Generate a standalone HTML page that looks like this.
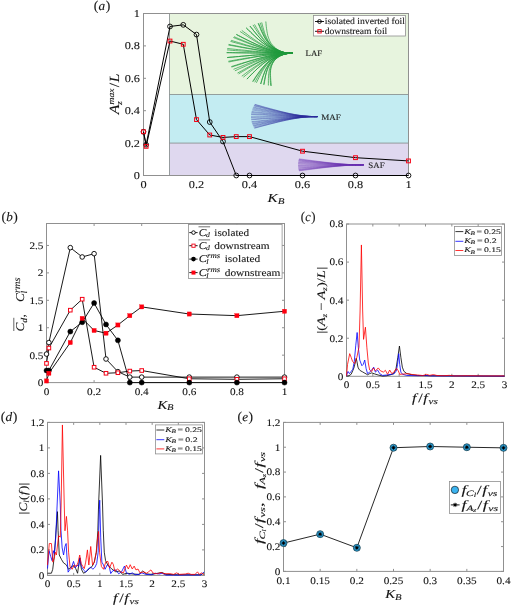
<!DOCTYPE html>
<html><head><meta charset="utf-8"><title>figure</title>
<style>html,body{margin:0;padding:0;background:#fff}svg{display:block}</style></head>
<body>
<svg width="518" height="612" viewBox="0 0 518 612" font-family="Liberation Serif, DejaVu Serif, serif" text-rendering="geometricPrecision">
<rect width="518" height="612" fill="#fff"/>
<rect x="169.50" y="13.5" width="239.00" height="81.00" fill="#e7f4de"/>
<rect x="169.50" y="94.50" width="239.00" height="48.60" fill="#c3ecf2"/>
<rect x="169.50" y="143.10" width="239.00" height="32.40" fill="#dfd8ef"/>
<path d="M169.50 13.5V175.5M169.50 94.50H408.5M169.50 143.10H408.5M169.50 175.5H408.5" stroke="#808888" stroke-width="0.8" fill="none"/>
<path d="M292.7 53.3 289.8 53.3 287.0 53.3 284.1 53.2 281.2 53.1 278.4 53.0 275.5 52.8 272.7 52.7 269.8 52.5 267.0 52.3 264.1 52.1 261.3 51.8 258.4 51.6 255.6 51.3 252.7 51.1 249.9 50.8 247.1 50.5 244.3 50.2 241.4 49.9 238.6 49.7 235.8 49.4 232.9 49.1 230.1 48.8 227.3 48.5M292.7 53.3 289.8 53.3 287.0 53.2 284.1 53.1 281.2 53.0 278.4 52.7 275.6 52.5 272.7 52.2 269.9 51.9 267.1 51.5 264.3 51.1 261.5 50.7 258.7 50.3 256.0 49.9 253.2 49.4 250.4 48.9 247.7 48.5 244.9 48.0 242.2 47.5 239.4 47.0 236.7 46.5 233.9 46.0 231.2 45.5 228.4 45.0M292.7 53.3 289.8 53.3 287.0 53.2 284.1 53.0 281.3 52.8 278.4 52.5 275.6 52.1 272.9 51.7 270.1 51.2 267.4 50.7 264.6 50.2 261.9 49.6 259.3 49.0 256.6 48.3 253.9 47.7 251.3 47.0 248.7 46.3 246.0 45.6 243.4 44.9 240.8 44.2 238.2 43.5 235.6 42.8 233.0 42.1 230.4 41.3M292.7 53.3 289.8 53.3 287.0 53.2 284.1 52.9 281.3 52.6 278.5 52.2 275.8 51.6 273.1 51.0 270.5 50.4 267.9 49.7 265.3 48.9 262.8 48.1 260.3 47.2 257.8 46.3 255.4 45.4 252.9 44.5 250.6 43.6 248.2 42.6 245.8 41.6 243.4 40.6 241.1 39.7 238.7 38.7 236.4 37.7 234.0 36.7M292.7 53.3 289.8 53.3 287.0 53.2 284.1 52.9 281.3 52.5 278.6 52.0 275.9 51.4 273.3 50.7 270.7 49.9 268.2 49.1 265.7 48.2 263.3 47.3 260.9 46.3 258.6 45.3 256.3 44.3 254.0 43.2 251.8 42.2 249.6 41.1 247.4 40.0 245.2 38.9 243.0 37.8 240.8 36.6 238.6 35.5 236.4 34.4M292.7 53.3 289.8 53.3 287.0 53.1 284.2 52.8 281.4 52.3 278.7 51.6 276.2 50.9 273.7 50.1 271.3 49.1 268.9 48.1 266.7 47.0 264.5 45.9 262.4 44.7 260.4 43.5 258.4 42.3 256.5 41.0 254.6 39.7 252.7 38.4 250.8 37.1 249.0 35.8 247.2 34.4 245.4 33.1 243.6 31.8 241.8 30.4M292.7 53.3 289.8 53.3 287.0 53.1 284.2 52.7 281.5 52.1 278.9 51.4 276.4 50.6 274.0 49.6 271.7 48.5 269.6 47.4 267.5 46.2 265.6 44.9 263.7 43.6 261.9 42.3 260.2 40.9 258.5 39.5 256.9 38.1 255.3 36.6 253.8 35.2 252.3 33.7 250.8 32.3 249.3 30.8 247.8 29.3 246.3 27.9M292.7 53.3 289.8 53.3 287.0 53.1 284.2 52.6 281.5 52.0 279.0 51.2 276.6 50.3 274.3 49.3 272.1 48.1 270.1 46.9 268.2 45.6 266.5 44.2 264.8 42.8 263.2 41.4 261.7 39.9 260.3 38.4 258.9 36.9 257.6 35.4 256.3 33.9 255.0 32.3 253.7 30.8 252.5 29.2 251.3 27.7 250.0 26.1M292.7 53.3 289.8 53.3 287.0 53.0 284.2 52.6 281.6 51.9 279.1 51.0 276.8 50.0 274.6 48.9 272.6 47.7 270.8 46.3 269.1 44.9 267.5 43.5 266.1 42.0 264.8 40.5 263.5 38.9 262.4 37.4 261.3 35.8 260.2 34.2 259.2 32.5 258.3 30.9 257.3 29.3 256.4 27.7 255.4 26.0 254.5 24.4M292.7 53.3 289.8 53.3 287.0 53.0 284.3 52.5 281.7 51.8 279.2 50.9 277.0 49.8 274.9 48.6 273.1 47.3 271.4 45.9 269.9 44.4 268.5 42.9 267.3 41.3 266.2 39.7 265.2 38.1 264.3 36.5 263.5 34.9 262.7 33.2 261.9 31.5 261.2 29.9 260.6 28.2 259.9 26.5 259.2 24.8 258.6 23.2M292.7 53.3 289.8 53.3 287.0 53.0 284.3 52.5 281.7 51.7 279.3 50.7 277.2 49.6 275.2 48.4 273.4 47.0 271.9 45.5 270.5 44.0 269.3 42.5 268.2 40.9 267.3 39.2 266.5 37.6 265.8 35.9 265.1 34.3 264.5 32.6 264.0 30.9 263.5 29.2 263.0 27.5 262.6 25.8 262.1 24.1 261.7 22.4M292.7 53.3 289.8 53.3 287.0 53.0 284.3 52.4 281.8 51.6 279.5 50.6 277.4 49.4 275.5 48.1 273.9 46.6 272.5 45.1 271.3 43.6 270.3 42.0 269.5 40.3 268.8 38.6 268.2 37.0 267.7 35.3 267.4 33.6 267.0 31.8 266.8 30.1 266.5 28.4 266.3 26.7 266.1 25.0 266.0 23.3 265.8 21.5M292.7 53.3 289.8 53.3 287.0 53.0 284.3 52.5 281.7 51.7 279.3 50.8 277.1 49.7 275.1 48.5 273.3 47.1 271.6 45.7 270.2 44.2 268.9 42.7 267.8 41.1 266.8 39.5 265.9 37.8 265.1 36.2 264.3 34.5 263.6 32.9 263.0 31.2 262.4 29.5 261.8 27.8 261.3 26.1 260.7 24.4 260.2 22.7M292.7 53.3 289.8 53.3 287.0 53.0 284.3 52.5 281.7 51.8 279.2 50.9 277.0 49.8 274.9 48.6 273.0 47.3 271.3 45.9 269.8 44.5 268.4 43.0 267.2 41.4 266.0 39.8 265.0 38.2 264.1 36.6 263.2 34.9 262.4 33.3 261.6 31.6 260.9 30.0 260.2 28.3 259.5 26.6 258.8 25.0 258.1 23.3M292.7 53.3 289.8 53.3 287.0 53.1 284.2 52.6 281.6 51.9 279.1 51.1 276.7 50.1 274.5 49.0 272.5 47.8 270.6 46.5 268.8 45.2 267.2 43.7 265.7 42.3 264.2 40.8 262.9 39.2 261.7 37.7 260.5 36.1 259.3 34.5 258.2 33.0 257.2 31.4 256.1 29.8 255.1 28.2 254.0 26.6 253.0 24.9M292.7 53.3 289.8 53.3 287.0 53.1 284.2 52.6 281.5 52.0 279.0 51.2 276.6 50.3 274.3 49.3 272.1 48.1 270.1 46.9 268.2 45.6 266.4 44.3 264.8 42.9 263.2 41.4 261.7 39.9 260.2 38.5 258.9 36.9 257.5 35.4 256.2 33.9 255.0 32.3 253.7 30.8 252.5 29.2 251.2 27.7 250.0 26.1M292.7 53.3 289.8 53.3 287.0 53.1 284.2 52.7 281.5 52.1 278.9 51.4 276.4 50.6 274.0 49.6 271.7 48.5 269.6 47.4 267.5 46.2 265.6 44.9 263.7 43.6 261.9 42.3 260.2 40.9 258.5 39.5 256.9 38.1 255.3 36.7 253.8 35.2 252.2 33.7 250.7 32.3 249.2 30.8 247.7 29.3 246.2 27.9M292.7 53.3 289.8 53.3 287.0 53.1 284.2 52.8 281.4 52.3 278.7 51.7 276.1 51.0 273.5 50.2 271.1 49.3 268.7 48.4 266.4 47.4 264.1 46.3 262.0 45.2 259.8 44.0 257.8 42.8 255.7 41.6 253.7 40.4 251.7 39.1 249.8 37.9 247.8 36.6 245.9 35.3 244.0 34.1 242.1 32.8 240.1 31.5M292.7 53.3 289.8 53.3 287.0 53.2 284.1 52.9 281.3 52.5 278.6 52.0 275.9 51.4 273.3 50.7 270.7 50.0 268.2 49.1 265.7 48.3 263.3 47.4 260.9 46.4 258.5 45.4 256.2 44.4 254.0 43.3 251.7 42.3 249.5 41.2 247.2 40.1 245.0 39.0 242.8 37.9 240.6 36.8 238.5 35.7 236.3 34.5M292.7 53.3 289.8 53.3 287.0 53.2 284.1 53.0 281.3 52.6 278.5 52.2 275.8 51.7 273.1 51.1 270.4 50.5 267.8 49.8 265.2 49.1 262.6 48.3 260.1 47.5 257.6 46.7 255.1 45.8 252.6 44.9 250.2 44.0 247.8 43.1 245.3 42.2 242.9 41.2 240.5 40.3 238.1 39.4 235.7 38.4 233.3 37.5M292.7 53.3 289.8 53.3 287.0 53.2 284.1 53.0 281.3 52.8 278.5 52.4 275.7 52.0 272.9 51.6 270.2 51.0 267.5 50.5 264.8 49.9 262.1 49.2 259.5 48.6 256.8 47.9 254.2 47.2 251.6 46.4 249.0 45.7 246.4 45.0 243.9 44.2 241.3 43.4 238.7 42.6 236.2 41.9 233.6 41.1 231.1 40.3M292.7 53.3 289.8 53.3 287.0 53.2 284.1 53.1 281.2 52.9 278.4 52.7 275.6 52.4 272.7 52.1 269.9 51.8 267.1 51.4 264.3 51.0 261.6 50.6 258.8 50.1 256.0 49.6 253.3 49.1 250.5 48.6 247.8 48.1 245.1 47.6 242.3 47.1 239.6 46.6 236.9 46.0 234.1 45.5 231.4 45.0 228.7 44.4M292.7 53.3 289.8 53.3 287.0 53.3 284.1 53.2 281.2 53.2 278.4 53.1 275.5 53.0 272.6 52.9 269.8 52.7 266.9 52.6 264.1 52.4 261.2 52.3 258.3 52.1 255.5 51.9 252.6 51.7 249.8 51.5 246.9 51.4 244.1 51.2 241.2 51.0 238.4 50.8 235.5 50.6 232.7 50.4 229.8 50.1 227.0 49.9M292.7 53.3 289.8 53.3 287.0 53.3 284.1 53.3 281.2 53.3 278.4 53.3 275.5 53.2 272.6 53.2 269.7 53.2 266.9 53.1 264.0 53.1 261.1 53.1 258.3 53.0 255.4 53.0 252.5 53.0 249.7 52.9 246.8 52.9 243.9 52.8 241.1 52.8 238.2 52.8 235.3 52.7 232.4 52.7 229.6 52.6 226.7 52.6M292.7 53.3 289.8 53.3 287.0 53.3 284.1 53.4 281.2 53.5 278.4 53.6 275.5 53.7 272.6 53.9 269.8 54.0 266.9 54.2 264.1 54.4 261.2 54.6 258.4 54.8 255.5 55.1 252.7 55.3 249.9 55.5 247.0 55.8 244.2 56.0 241.3 56.3 238.5 56.6 235.7 56.8 232.8 57.1 230.0 57.3 227.2 57.6M292.7 53.3 289.8 53.3 287.0 53.4 284.1 53.5 281.2 53.7 278.4 53.9 275.6 54.1 272.7 54.5 269.9 54.8 267.1 55.2 264.3 55.6 261.6 56.0 258.8 56.4 256.0 56.9 253.3 57.4 250.5 57.9 247.8 58.4 245.0 58.9 242.3 59.4 239.5 59.9 236.8 60.4 234.1 60.9 231.3 61.5 228.6 62.0M292.7 53.3 289.8 53.3 287.0 53.4 284.1 53.6 281.3 53.9 278.5 54.2 275.7 54.6 272.9 55.1 270.2 55.6 267.5 56.2 264.8 56.8 262.1 57.5 259.5 58.1 256.9 58.8 254.3 59.6 251.7 60.3 249.1 61.1 246.6 61.9 244.0 62.6 241.5 63.4 238.9 64.2 236.4 65.0 233.8 65.8 231.3 66.6M292.7 53.3 289.8 53.3 287.0 53.4 284.1 53.7 281.3 54.1 278.6 54.5 275.8 55.1 273.2 55.7 270.6 56.4 268.0 57.2 265.5 58.0 263.0 58.8 260.5 59.7 258.1 60.7 255.7 61.6 253.4 62.6 251.0 63.6 248.7 64.6 246.4 65.6 244.1 66.7 241.8 67.7 239.5 68.7 237.2 69.8 234.9 70.8M292.7 53.3 289.8 53.3 287.0 53.5 284.1 53.7 281.4 54.2 278.6 54.7 276.0 55.3 273.4 56.0 270.8 56.8 268.3 57.7 265.9 58.6 263.5 59.6 261.2 60.6 258.9 61.7 256.7 62.8 254.5 63.9 252.3 65.0 250.2 66.1 248.0 67.3 245.9 68.4 243.8 69.6 241.7 70.8 239.6 71.9 237.5 73.1M292.7 53.3 289.8 53.3 287.0 53.5 284.2 53.9 281.4 54.4 278.8 55.0 276.2 55.8 273.8 56.7 271.4 57.7 269.2 58.8 267.0 59.9 264.9 61.1 262.9 62.3 260.9 63.6 259.1 64.9 257.2 66.2 255.4 67.5 253.7 68.9 251.9 70.3 250.2 71.6 248.5 73.0 246.8 74.4 245.1 75.8 243.4 77.2M292.7 53.3 289.8 53.3 287.0 53.5 284.2 53.9 281.5 54.5 278.9 55.2 276.4 56.1 274.0 57.1 271.8 58.1 269.7 59.3 267.6 60.5 265.7 61.8 263.9 63.1 262.1 64.5 260.5 65.9 258.8 67.3 257.3 68.7 255.7 70.2 254.2 71.7 252.7 73.1 251.3 74.6 249.8 76.1 248.4 77.6 246.9 79.1M292.7 53.3 289.8 53.3 287.0 53.5 284.2 54.0 281.6 54.7 279.1 55.5 276.7 56.5 274.5 57.6 272.5 58.8 270.6 60.1 268.8 61.4 267.2 62.9 265.7 64.3 264.2 65.8 262.9 67.4 261.7 68.9 260.5 70.5 259.4 72.1 258.3 73.6 257.2 75.2 256.1 76.8 255.1 78.4 254.1 80.1 253.0 81.7M292.7 53.3 289.8 53.3 287.0 53.6 284.2 54.1 281.6 54.8 279.2 55.7 276.9 56.7 274.8 57.9 272.8 59.1 271.1 60.5 269.5 61.9 268.0 63.4 266.7 64.9 265.4 66.5 264.3 68.1 263.3 69.7 262.3 71.3 261.4 72.9 260.5 74.6 259.7 76.2 258.8 77.8 258.0 79.5 257.2 81.2 256.4 82.8M292.7 53.3 289.8 53.3 287.0 53.6 284.3 54.1 281.7 54.9 279.3 55.8 277.1 56.9 275.1 58.2 273.3 59.5 271.7 61.0 270.3 62.5 269.1 64.0 268.0 65.6 267.0 67.2 266.1 68.9 265.3 70.5 264.6 72.2 264.0 73.9 263.4 75.5 262.8 77.2 262.3 78.9 261.8 80.6 261.3 82.3 260.8 84.0M292.7 53.3 289.8 53.3 287.0 53.6 284.3 54.2 281.8 55.0 279.4 56.0 277.3 57.1 275.4 58.4 273.7 59.8 272.2 61.3 271.0 62.8 269.9 64.4 268.9 66.0 268.1 67.7 267.5 69.4 266.9 71.1 266.4 72.8 265.9 74.5 265.5 76.2 265.2 77.9 264.9 79.6 264.6 81.3 264.3 83.0 264.0 84.7M292.7 53.3 289.8 53.3 287.0 53.6 284.3 54.3 281.9 55.1 279.6 56.2 277.7 57.5 276.0 58.8 274.5 60.3 273.3 61.9 272.4 63.5 271.6 65.2 271.0 66.9 270.6 68.6 270.3 70.3 270.1 72.0 270.0 73.7 270.0 75.4 270.1 77.2 270.2 78.9 270.3 80.6 270.4 82.3 270.5 84.0 270.7 85.8M292.7 53.3 289.8 53.3 287.0 53.6 284.3 54.3 281.9 55.1 279.7 56.2 277.7 57.5 276.0 58.9 274.6 60.4 273.4 62.0 272.5 63.6 271.8 65.3 271.2 66.9 270.9 68.7 270.6 70.4 270.5 72.1 270.4 73.8 270.5 75.5 270.6 77.3 270.7 79.0 270.8 80.7 271.0 82.4 271.2 84.1 271.4 85.8M292.7 53.3 289.8 53.3 287.0 53.6 284.3 54.2 281.8 55.1 279.6 56.1 277.5 57.3 275.8 58.7 274.2 60.2 273.0 61.7 271.9 63.3 271.0 64.9 270.3 66.6 269.7 68.3 269.3 70.0 269.0 71.7 268.8 73.4 268.6 75.1 268.5 76.9 268.4 78.6 268.4 80.3 268.4 82.0 268.4 83.7 268.4 85.5M292.7 53.3 289.8 53.3 287.0 53.6 284.3 54.2 281.7 55.0 279.4 55.9 277.3 57.1 275.4 58.4 273.7 59.8 272.2 61.3 270.9 62.8 269.8 64.4 268.8 66.0 268.0 67.7 267.3 69.3 266.7 71.0 266.2 72.7 265.8 74.4 265.4 76.1 265.0 77.8 264.6 79.5 264.3 81.2 264.0 82.9 263.7 84.7M292.7 53.3 289.8 53.3 287.0 53.6 284.3 54.1 281.7 54.9 279.3 55.8 277.1 56.9 275.1 58.2 273.3 59.5 271.7 60.9 270.3 62.4 269.0 64.0 267.9 65.6 266.9 67.2 266.0 68.8 265.2 70.5 264.5 72.1 263.9 73.8 263.3 75.5 262.7 77.2 262.1 78.9 261.6 80.6 261.1 82.3 260.6 84.0M292.7 53.3 289.8 53.3 287.0 53.6 284.2 54.0 281.6 54.7 279.1 55.6 276.8 56.6 274.6 57.7 272.7 59.0 270.8 60.3 269.1 61.7 267.6 63.1 266.2 64.6 264.9 66.2 263.6 67.7 262.5 69.3 261.4 70.9 260.4 72.5 259.4 74.1 258.5 75.8 257.5 77.4 256.6 79.0 255.7 80.7 254.8 82.3M292.7 53.3 289.8 53.3 287.0 53.5 284.2 54.0 281.6 54.7 279.1 55.5 276.7 56.5 274.5 57.6 272.4 58.8 270.5 60.0 268.7 61.4 267.1 62.8 265.5 64.3 264.1 65.7 262.8 67.3 261.5 68.8 260.3 70.4 259.1 71.9 258.0 73.5 256.9 75.1 255.8 76.7 254.7 78.3 253.7 79.9 252.6 81.5M292.7 53.3 289.8 53.3 287.0 53.5 284.2 53.9 281.5 54.5 278.9 55.2 276.4 56.1 274.0 57.1 271.8 58.1 269.7 59.3 267.7 60.5 265.7 61.8 263.9 63.1 262.2 64.5 260.5 65.9 258.9 67.3 257.3 68.7 255.8 70.2 254.3 71.7 252.8 73.1 251.3 74.6 249.9 76.1 248.4 77.6 247.0 79.1M292.7 53.3 289.8 53.3 287.0 53.5 284.2 53.8 281.4 54.3 278.7 55.0 276.2 55.7 273.7 56.5 271.3 57.5 268.9 58.5 266.7 59.6 264.5 60.7 262.4 61.9 260.4 63.1 258.4 64.3 256.5 65.6 254.6 66.9 252.7 68.2 250.9 69.5 249.0 70.8 247.2 72.2 245.4 73.5 243.6 74.9 241.8 76.2M292.7 53.3 289.8 53.3 287.0 53.5 284.1 53.8 281.4 54.2 278.7 54.8 276.0 55.4 273.4 56.2 270.9 57.0 268.5 57.9 266.1 58.9 263.8 59.9 261.5 61.0 259.3 62.1 257.1 63.2 255.0 64.3 252.9 65.5 250.8 66.7 248.7 67.9 246.7 69.1 244.7 70.3 242.6 71.5 240.6 72.7 238.6 73.9M292.7 53.3 289.8 53.3 287.0 53.4 284.1 53.7 281.3 54.0 278.5 54.4 275.8 54.9 273.1 55.5 270.4 56.1 267.8 56.8 265.2 57.6 262.6 58.3 260.1 59.2 257.6 60.0 255.2 60.9 252.7 61.8 250.3 62.7 247.9 63.6 245.5 64.6 243.1 65.5 240.7 66.5 238.3 67.4 235.9 68.4 233.5 69.3M292.7 53.3 289.8 53.3 287.0 53.4 284.1 53.6 281.3 53.9 278.5 54.2 275.7 54.7 272.9 55.2 270.2 55.7 267.5 56.3 264.9 56.9 262.2 57.6 259.6 58.3 257.0 59.0 254.4 59.8 251.9 60.6 249.3 61.3 246.8 62.1 244.2 62.9 241.7 63.8 239.2 64.6 236.7 65.4 234.1 66.2 231.6 67.1M292.7 53.3 289.8 53.3 287.0 53.4 284.1 53.5 281.2 53.6 278.4 53.8 275.6 54.1 272.7 54.4 269.9 54.7 267.1 55.0 264.3 55.4 261.5 55.8 258.7 56.2 255.9 56.6 253.1 57.0 250.4 57.5 247.6 57.9 244.8 58.4 242.1 58.9 239.3 59.3 236.6 59.8 233.8 60.3 231.1 60.8 228.3 61.3M292.7 53.3 289.8 53.3 287.0 53.3 284.1 53.4 281.2 53.5 278.4 53.6 275.5 53.7 272.6 53.9 269.8 54.0 266.9 54.2 264.1 54.4 261.2 54.6 258.4 54.8 255.5 55.0 252.7 55.2 249.8 55.5 247.0 55.7 244.2 56.0 241.3 56.2 238.5 56.5 235.6 56.7 232.8 57.0 230.0 57.2 227.1 57.5M292.7 53.3 289.8 53.3 287.0 53.3 284.1 53.3 281.2 53.3 278.4 53.3 275.5 53.2 272.6 53.2 269.7 53.2 266.9 53.2 264.0 53.1 261.1 53.1 258.3 53.1 255.4 53.0 252.5 53.0 249.7 53.0 246.8 52.9 243.9 52.9 241.1 52.8 238.2 52.8 235.3 52.8 232.4 52.7 229.6 52.7 226.7 52.7" fill="none" stroke="#1f9a3c" stroke-width="0.7" stroke-opacity="1.0"/>
<path d="M317.4 116.6 314.5 116.6 311.6 116.6 308.7 116.5 305.9 116.5 303.0 116.4 300.1 116.3 297.2 116.2 294.3 116.1 291.4 116.0 288.6 115.9 285.7 115.7 282.8 115.6 279.9 115.4 277.1 115.3 274.2 115.1 271.3 114.9 268.4 114.8 265.6 114.6 262.7 114.4 259.8 114.2 257.0 114.1 254.1 113.9 251.2 113.7M317.4 116.6 314.5 116.6 311.6 116.6 308.7 116.5 305.9 116.4 303.0 116.3 300.1 116.1 297.2 115.9 294.4 115.7 291.5 115.5 288.6 115.3 285.8 115.0 282.9 114.7 280.1 114.5 277.2 114.2 274.4 113.9 271.6 113.6 268.7 113.3 265.9 113.0 263.0 112.7 260.2 112.4 257.3 112.1 254.5 111.8 251.7 111.4M317.4 116.6 314.5 116.6 311.6 116.5 308.7 116.4 305.9 116.3 303.0 116.1 300.1 115.9 297.3 115.6 294.4 115.3 291.6 115.0 288.8 114.6 286.0 114.2 283.2 113.8 280.4 113.4 277.6 113.0 274.8 112.6 272.0 112.1 269.2 111.7 266.4 111.2 263.6 110.8 260.8 110.3 258.0 109.9 255.3 109.4 252.5 108.9M317.4 116.6 314.5 116.6 311.6 116.5 308.8 116.4 305.9 116.2 303.0 116.0 300.2 115.7 297.3 115.3 294.5 115.0 291.7 114.5 288.9 114.1 286.2 113.6 283.4 113.1 280.6 112.6 277.9 112.1 275.1 111.6 272.4 111.0 269.7 110.5 266.9 109.9 264.2 109.3 261.5 108.8 258.8 108.2 256.0 107.6 253.3 107.0M317.4 116.6 314.5 116.6 311.6 116.5 308.8 116.4 305.9 116.1 303.0 115.8 300.2 115.5 297.4 115.1 294.6 114.7 291.8 114.2 289.1 113.7 286.4 113.1 283.6 112.5 280.9 111.9 278.2 111.3 275.5 110.7 272.9 110.1 270.2 109.4 267.5 108.7 264.9 108.1 262.2 107.4 259.6 106.7 256.9 106.1 254.2 105.4M317.4 116.6 314.5 116.6 311.6 116.5 308.8 116.3 305.9 116.1 303.1 115.8 300.2 115.4 297.5 115.0 294.7 114.5 291.9 113.9 289.2 113.4 286.5 112.8 283.8 112.1 281.1 111.5 278.5 110.8 275.8 110.1 273.2 109.4 270.6 108.7 268.0 108.0 265.3 107.3 262.7 106.5 260.1 105.8 257.5 105.1 254.9 104.3M317.4 116.6 314.5 116.6 311.6 116.5 308.8 116.3 305.9 116.1 303.1 115.8 300.2 115.4 297.4 115.0 294.7 114.5 291.9 114.0 289.2 113.5 286.4 112.9 283.7 112.3 281.1 111.7 278.4 111.0 275.7 110.3 273.1 109.7 270.4 109.0 267.8 108.3 265.2 107.6 262.5 106.9 259.9 106.1 257.3 105.4 254.6 104.7M317.4 116.6 314.5 116.6 311.6 116.5 308.8 116.4 305.9 116.2 303.0 115.9 300.2 115.6 297.4 115.2 294.6 114.8 291.8 114.3 289.0 113.8 286.3 113.3 283.6 112.7 280.8 112.2 278.1 111.6 275.4 111.0 272.7 110.4 270.0 109.7 267.3 109.1 264.6 108.5 262.0 107.8 259.3 107.2 256.6 106.6 253.9 105.9M317.4 116.6 314.5 116.6 311.6 116.5 308.7 116.4 305.9 116.2 303.0 116.0 300.2 115.7 297.3 115.4 294.5 115.1 291.7 114.7 288.9 114.3 286.1 113.9 283.3 113.4 280.5 113.0 277.7 112.5 275.0 112.0 272.2 111.5 269.4 111.0 266.7 110.5 263.9 110.0 261.2 109.4 258.4 108.9 255.7 108.4 252.9 107.9M317.4 116.6 314.5 116.6 311.6 116.6 308.7 116.5 305.9 116.3 303.0 116.2 300.1 116.0 297.3 115.7 294.4 115.5 291.6 115.2 288.7 114.9 285.9 114.6 283.0 114.2 280.2 113.9 277.4 113.5 274.6 113.2 271.8 112.8 268.9 112.4 266.1 112.0 263.3 111.6 260.5 111.2 257.7 110.8 254.9 110.4 252.1 110.0M317.4 116.6 314.5 116.6 311.6 116.6 308.7 116.5 305.9 116.4 303.0 116.3 300.1 116.2 297.2 116.0 294.3 115.9 291.5 115.7 288.6 115.5 285.7 115.3 282.9 115.1 280.0 114.9 277.2 114.6 274.3 114.4 271.4 114.2 268.6 113.9 265.7 113.7 262.9 113.4 260.0 113.2 257.2 112.9 254.3 112.7 251.4 112.4M317.4 116.6 314.5 116.6 311.6 116.6 308.7 116.6 305.9 116.5 303.0 116.5 300.1 116.4 297.2 116.3 294.3 116.2 291.4 116.2 288.5 116.1 285.7 116.0 282.8 115.8 279.9 115.7 277.0 115.6 274.1 115.5 271.3 115.4 268.4 115.3 265.5 115.1 262.6 115.0 259.7 114.9 256.9 114.8 254.0 114.6 251.1 114.5M317.4 116.6 314.5 116.6 311.6 116.6 308.7 116.6 305.9 116.6 303.0 116.7 300.1 116.7 297.2 116.7 294.3 116.8 291.4 116.8 288.5 116.8 285.6 116.9 282.8 116.9 279.9 117.0 277.0 117.0 274.1 117.1 271.2 117.1 268.3 117.2 265.4 117.2 262.6 117.3 259.7 117.4 256.8 117.4 253.9 117.5 251.0 117.5M317.4 116.6 314.5 116.6 311.6 116.6 308.7 116.7 305.9 116.7 303.0 116.8 300.1 116.9 297.2 117.0 294.3 117.1 291.5 117.3 288.6 117.4 285.7 117.6 282.8 117.7 280.0 117.9 277.1 118.1 274.2 118.3 271.3 118.4 268.5 118.6 265.6 118.8 262.7 119.0 259.9 119.2 257.0 119.4 254.1 119.6 251.3 119.8M317.4 116.6 314.5 116.6 311.6 116.6 308.7 116.7 305.9 116.8 303.0 117.0 300.1 117.2 297.2 117.4 294.4 117.6 291.5 117.8 288.7 118.1 285.8 118.4 283.0 118.7 280.1 119.0 277.3 119.3 274.5 119.6 271.6 120.0 268.8 120.3 266.0 120.7 263.2 121.0 260.3 121.4 257.5 121.7 254.7 122.1 251.8 122.4M317.4 116.6 314.5 116.6 311.6 116.7 308.7 116.8 305.9 116.9 303.0 117.1 300.1 117.3 297.3 117.6 294.4 117.9 291.6 118.2 288.8 118.6 286.0 119.0 283.2 119.4 280.4 119.8 277.6 120.2 274.8 120.6 272.0 121.1 269.2 121.5 266.4 122.0 263.6 122.4 260.8 122.9 258.1 123.3 255.3 123.8 252.5 124.3M317.4 116.6 314.5 116.6 311.6 116.7 308.7 116.8 305.9 117.0 303.0 117.2 300.2 117.5 297.3 117.9 294.5 118.2 291.7 118.6 288.9 119.1 286.1 119.5 283.4 120.0 280.6 120.5 277.9 121.0 275.1 121.5 272.4 122.1 269.6 122.6 266.9 123.2 264.2 123.7 261.4 124.3 258.7 124.9 256.0 125.4 253.3 126.0M317.4 116.6 314.5 116.6 311.6 116.7 308.8 116.8 305.9 117.1 303.0 117.4 300.2 117.7 297.4 118.1 294.6 118.6 291.9 119.0 289.1 119.6 286.4 120.1 283.6 120.7 280.9 121.3 278.2 121.9 275.6 122.5 272.9 123.2 270.2 123.8 267.6 124.5 264.9 125.2 262.2 125.8 259.6 126.5 256.9 127.2 254.3 127.9M317.4 116.6 314.5 116.6 311.6 116.7 308.8 116.8 305.9 117.1 303.1 117.4 300.2 117.7 297.4 118.2 294.6 118.6 291.9 119.1 289.1 119.6 286.4 120.2 283.7 120.8 281.0 121.4 278.3 122.0 275.6 122.7 273.0 123.4 270.3 124.0 267.7 124.7 265.0 125.4 262.4 126.1 259.7 126.8 257.1 127.5 254.5 128.2M317.4 116.6 314.5 116.6 311.6 116.7 308.8 116.8 305.9 117.0 303.0 117.3 300.2 117.6 297.4 118.0 294.6 118.4 291.8 118.8 289.0 119.3 286.2 119.8 283.5 120.3 280.8 120.9 278.0 121.5 275.3 122.0 272.6 122.6 269.9 123.2 267.2 123.9 264.5 124.5 261.8 125.1 259.1 125.7 256.4 126.3 253.7 127.0M317.4 116.6 314.5 116.6 311.6 116.7 308.7 116.8 305.9 117.0 303.0 117.2 300.2 117.5 297.3 117.8 294.5 118.1 291.7 118.5 288.9 118.9 286.1 119.3 283.3 119.7 280.5 120.2 277.7 120.7 275.0 121.2 272.2 121.7 269.4 122.2 266.7 122.7 263.9 123.2 261.2 123.8 258.4 124.3 255.7 124.8 252.9 125.3M317.4 116.6 314.5 116.6 311.6 116.7 308.7 116.7 305.9 116.9 303.0 117.1 300.1 117.3 297.3 117.5 294.4 117.8 291.6 118.1 288.7 118.4 285.9 118.8 283.1 119.1 280.3 119.5 277.5 119.9 274.6 120.3 271.8 120.7 269.0 121.1 266.2 121.5 263.4 121.9 260.6 122.3 257.8 122.7 255.0 123.1 252.2 123.6M317.4 116.6 314.5 116.6 311.6 116.6 308.7 116.7 305.9 116.8 303.0 116.9 300.1 117.1 297.2 117.3 294.4 117.5 291.5 117.7 288.6 117.9 285.8 118.1 282.9 118.4 280.1 118.7 277.2 118.9 274.4 119.2 271.5 119.5 268.7 119.8 265.8 120.1 263.0 120.4 260.2 120.7 257.3 121.0 254.5 121.3 251.6 121.6M317.4 116.6 314.5 116.6 311.6 116.6 308.7 116.7 305.9 116.7 303.0 116.8 300.1 116.8 297.2 116.9 294.3 117.0 291.4 117.1 288.6 117.2 285.7 117.3 282.8 117.5 279.9 117.6 277.0 117.7 274.2 117.9 271.3 118.0 268.4 118.1 265.5 118.3 262.7 118.4 259.8 118.6 256.9 118.7 254.0 118.9 251.1 119.0M317.4 116.6 314.5 116.6 311.6 116.6 308.7 116.6 305.9 116.6 303.0 116.6 300.1 116.6 297.2 116.6 294.3 116.5 291.4 116.5 288.5 116.5 285.6 116.5 282.8 116.5 279.9 116.5 277.0 116.5 274.1 116.4 271.2 116.4 268.3 116.4 265.4 116.4 262.5 116.4 259.7 116.3 256.8 116.3 253.9 116.3 251.0 116.3" fill="none" stroke="#2a2a9c" stroke-width="0.5" stroke-opacity="0.75"/>
<path d="M363.7 164.9 360.8 164.9 358.0 164.9 355.1 164.9 352.3 164.8 349.4 164.8 346.6 164.8 343.7 164.7 340.9 164.7 338.0 164.6 335.2 164.5 332.3 164.5 329.5 164.4 326.6 164.3 323.8 164.2 320.9 164.2 318.1 164.1 315.2 164.0 312.4 163.9 309.5 163.8 306.7 163.7 303.8 163.6 301.0 163.6 298.1 163.5M363.7 164.9 360.8 164.9 358.0 164.9 355.1 164.8 352.3 164.8 349.4 164.7 346.6 164.6 343.7 164.5 340.9 164.4 338.1 164.3 335.2 164.2 332.4 164.0 329.5 163.9 326.7 163.7 323.8 163.6 321.0 163.4 318.2 163.3 315.3 163.1 312.5 162.9 309.6 162.8 306.8 162.6 304.0 162.4 301.1 162.3 298.3 162.1M363.7 164.9 360.8 164.9 358.0 164.9 355.1 164.8 352.3 164.7 349.4 164.6 346.6 164.5 343.8 164.4 340.9 164.2 338.1 164.0 335.2 163.8 332.4 163.7 329.6 163.4 326.8 163.2 323.9 163.0 321.1 162.8 318.3 162.5 315.4 162.3 312.6 162.1 309.8 161.8 307.0 161.6 304.2 161.3 301.3 161.1 298.5 160.8M363.7 164.9 360.8 164.9 358.0 164.9 355.1 164.8 352.3 164.7 349.5 164.6 346.6 164.4 343.8 164.2 340.9 164.0 338.1 163.8 335.3 163.6 332.5 163.3 329.7 163.0 326.8 162.8 324.0 162.5 321.2 162.2 318.4 161.9 315.6 161.6 312.8 161.3 310.0 161.0 307.2 160.7 304.4 160.4 301.6 160.0 298.8 159.7M363.7 164.9 360.8 164.9 358.0 164.9 355.1 164.8 352.3 164.7 349.5 164.5 346.6 164.3 343.8 164.1 341.0 163.9 338.1 163.6 335.3 163.3 332.5 163.0 329.7 162.7 326.9 162.4 324.1 162.1 321.3 161.7 318.5 161.4 315.7 161.0 312.9 160.7 310.2 160.3 307.4 160.0 304.6 159.6 301.8 159.2 299.0 158.9M363.7 164.9 360.8 164.9 358.0 164.9 355.1 164.8 352.3 164.7 349.5 164.5 346.6 164.4 343.8 164.2 341.0 163.9 338.1 163.7 335.3 163.4 332.5 163.2 329.7 162.9 326.9 162.6 324.1 162.3 321.3 161.9 318.5 161.6 315.7 161.3 312.9 161.0 310.1 160.6 307.3 160.3 304.5 159.9 301.7 159.6 298.9 159.3M363.7 164.9 360.8 164.9 358.0 164.9 355.1 164.8 352.3 164.7 349.5 164.6 346.6 164.4 343.8 164.3 340.9 164.1 338.1 163.9 335.3 163.7 332.4 163.4 329.6 163.2 326.8 162.9 324.0 162.7 321.2 162.4 318.4 162.1 315.5 161.9 312.7 161.6 309.9 161.3 307.1 161.0 304.3 160.7 301.5 160.4 298.7 160.2M363.7 164.9 360.8 164.9 358.0 164.9 355.1 164.8 352.3 164.7 349.4 164.7 346.6 164.5 343.8 164.4 340.9 164.3 338.1 164.1 335.2 163.9 332.4 163.7 329.6 163.6 326.7 163.4 323.9 163.1 321.1 162.9 318.2 162.7 315.4 162.5 312.6 162.3 309.8 162.1 306.9 161.8 304.1 161.6 301.3 161.4 298.4 161.1M363.7 164.9 360.8 164.9 358.0 164.9 355.1 164.8 352.3 164.8 349.4 164.7 346.6 164.7 343.7 164.6 340.9 164.5 338.0 164.4 335.2 164.3 332.4 164.1 329.5 164.0 326.7 163.9 323.8 163.8 321.0 163.6 318.1 163.5 315.3 163.3 312.5 163.2 309.6 163.0 306.8 162.9 303.9 162.8 301.1 162.6 298.2 162.5M363.7 164.9 360.8 164.9 358.0 164.9 355.1 164.9 352.3 164.9 349.4 164.8 346.6 164.8 343.7 164.8 340.9 164.7 338.0 164.7 335.2 164.7 332.3 164.6 329.5 164.6 326.6 164.5 323.8 164.5 320.9 164.4 318.1 164.4 315.2 164.3 312.4 164.3 309.5 164.2 306.7 164.2 303.8 164.1 301.0 164.1 298.1 164.0M363.7 164.9 360.8 164.9 358.0 164.9 355.1 164.9 352.3 164.9 349.4 164.9 346.6 165.0 343.7 165.0 340.9 165.0 338.0 165.0 335.2 165.1 332.3 165.1 329.5 165.1 326.6 165.1 323.8 165.2 320.9 165.2 318.1 165.2 315.2 165.3 312.4 165.3 309.5 165.3 306.7 165.4 303.8 165.4 301.0 165.4 298.1 165.5M363.7 164.9 360.8 164.9 358.0 164.9 355.1 164.9 352.3 165.0 349.4 165.0 346.6 165.1 343.7 165.2 340.9 165.3 338.0 165.4 335.2 165.5 332.4 165.6 329.5 165.7 326.7 165.8 323.8 165.9 321.0 166.1 318.1 166.2 315.3 166.3 312.4 166.5 309.6 166.6 306.8 166.7 303.9 166.9 301.1 167.0 298.2 167.1M363.7 164.9 360.8 164.9 358.0 164.9 355.1 165.0 352.3 165.0 349.4 165.1 346.6 165.2 343.8 165.4 340.9 165.5 338.1 165.6 335.2 165.8 332.4 166.0 329.6 166.1 326.7 166.3 323.9 166.5 321.0 166.7 318.2 166.9 315.4 167.1 312.5 167.3 309.7 167.5 306.9 167.7 304.1 167.9 301.2 168.1 298.4 168.3M363.7 164.9 360.8 164.9 358.0 164.9 355.1 165.0 352.3 165.1 349.5 165.2 346.6 165.4 343.8 165.5 340.9 165.7 338.1 165.9 335.3 166.1 332.4 166.4 329.6 166.6 326.8 166.8 324.0 167.1 321.2 167.4 318.3 167.6 315.5 167.9 312.7 168.2 309.9 168.5 307.1 168.8 304.3 169.0 301.5 169.3 298.6 169.6M363.7 164.9 360.8 164.9 358.0 164.9 355.1 165.0 352.3 165.1 349.5 165.3 346.6 165.4 343.8 165.6 341.0 165.9 338.1 166.1 335.3 166.4 332.5 166.6 329.7 166.9 326.9 167.2 324.1 167.5 321.3 167.8 318.5 168.2 315.7 168.5 312.9 168.8 310.1 169.1 307.3 169.5 304.5 169.8 301.7 170.2 298.9 170.5M363.7 164.9 360.8 164.9 358.0 164.9 355.1 165.0 352.3 165.1 349.5 165.3 346.6 165.5 343.8 165.7 341.0 165.9 338.1 166.2 335.3 166.5 332.5 166.8 329.7 167.1 326.9 167.4 324.1 167.7 321.3 168.0 318.5 168.4 315.7 168.7 312.9 169.1 310.2 169.5 307.4 169.8 304.6 170.2 301.8 170.5 299.0 170.9M363.7 164.9 360.8 164.9 358.0 164.9 355.1 165.0 352.3 165.1 349.5 165.2 346.6 165.4 343.8 165.6 340.9 165.8 338.1 166.0 335.3 166.3 332.5 166.5 329.7 166.8 326.8 167.0 324.0 167.3 321.2 167.6 318.4 167.9 315.6 168.2 312.8 168.5 310.0 168.9 307.2 169.2 304.4 169.5 301.6 169.8 298.8 170.1M363.7 164.9 360.8 164.9 358.0 164.9 355.1 165.0 352.3 165.1 349.5 165.2 346.6 165.3 343.8 165.5 340.9 165.6 338.1 165.8 335.3 166.0 332.4 166.2 329.6 166.5 326.8 166.7 323.9 166.9 321.1 167.2 318.3 167.4 315.5 167.7 312.7 167.9 309.8 168.2 307.0 168.4 304.2 168.7 301.4 169.0 298.6 169.2M363.7 164.9 360.8 164.9 358.0 164.9 355.1 165.0 352.3 165.0 349.4 165.1 346.6 165.2 343.8 165.3 340.9 165.4 338.1 165.6 335.2 165.7 332.4 165.9 329.5 166.0 326.7 166.2 323.9 166.4 321.0 166.5 318.2 166.7 315.4 166.9 312.5 167.1 309.7 167.3 306.8 167.4 304.0 167.6 301.2 167.8 298.3 168.0M363.7 164.9 360.8 164.9 358.0 164.9 355.1 164.9 352.3 165.0 349.4 165.0 346.6 165.1 343.7 165.1 340.9 165.2 338.0 165.2 335.2 165.3 332.3 165.4 329.5 165.5 326.6 165.6 323.8 165.7 320.9 165.7 318.1 165.8 315.3 165.9 312.4 166.0 309.6 166.1 306.7 166.2 303.9 166.3 301.0 166.4 298.2 166.5M363.7 164.9 360.8 164.9 358.0 164.9 355.1 164.9 352.3 164.9 349.4 164.9 346.6 164.9 343.7 164.9 340.9 164.9 338.0 164.9 335.2 164.9 332.3 165.0 329.5 165.0 326.6 165.0 323.8 165.0 320.9 165.0 318.1 165.0 315.2 165.0 312.4 165.0 309.5 165.0 306.7 165.0 303.8 165.1 301.0 165.1 298.1 165.1" fill="none" stroke="#6a30b0" stroke-width="0.45" stroke-opacity="0.75"/>
<text transform="translate(305.50,55.80) scale(1.0700,1)" fill="#141414" stroke="#141414" stroke-width="0.1" xml:space="preserve"><tspan x="0.00" y="0.00" font-size="8.3">LAF</tspan></text>
<text transform="translate(321.30,119.60) scale(1.0895,1)" fill="#141414" stroke="#141414" stroke-width="0.1" xml:space="preserve"><tspan x="0.00" y="0.00" font-size="8.3">MAF</tspan></text>
<text transform="translate(368.30,168.00) scale(1.0700,1)" fill="#141414" stroke="#141414" stroke-width="0.1" xml:space="preserve"><tspan x="0.00" y="0.00" font-size="8.3">SAF</tspan></text>
<rect x="143.5" y="13.5" width="265.00" height="162.00" fill="none" stroke="#909090" stroke-width="1"/>
<text transform="translate(143.50,187.90) scale(1.1600,1)" fill="#141414" stroke="#141414" stroke-width="0.1" xml:space="preserve"><tspan x="-2.65" y="0.00" font-size="10.6">0</tspan></text>
<text transform="translate(196.50,187.90) scale(1.1600,1)" fill="#141414" stroke="#141414" stroke-width="0.1" xml:space="preserve"><tspan x="-6.62" y="0.00" font-size="10.6">0.2</tspan></text>
<text transform="translate(249.50,187.90) scale(1.1600,1)" fill="#141414" stroke="#141414" stroke-width="0.1" xml:space="preserve"><tspan x="-6.62" y="0.00" font-size="10.6">0.4</tspan></text>
<text transform="translate(302.50,187.90) scale(1.1600,1)" fill="#141414" stroke="#141414" stroke-width="0.1" xml:space="preserve"><tspan x="-6.62" y="0.00" font-size="10.6">0.6</tspan></text>
<text transform="translate(355.50,187.90) scale(1.1600,1)" fill="#141414" stroke="#141414" stroke-width="0.1" xml:space="preserve"><tspan x="-6.62" y="0.00" font-size="10.6">0.8</tspan></text>
<text transform="translate(408.50,187.90) scale(1.1600,1)" fill="#141414" stroke="#141414" stroke-width="0.1" xml:space="preserve"><tspan x="-2.65" y="0.00" font-size="10.6">1</tspan></text>
<text transform="translate(140.00,179.05) scale(1.1600,1)" fill="#141414" stroke="#141414" stroke-width="0.1" xml:space="preserve"><tspan x="-5.30" y="0.00" font-size="10.6">0</tspan></text>
<text transform="translate(140.00,146.65) scale(1.1600,1)" fill="#141414" stroke="#141414" stroke-width="0.1" xml:space="preserve"><tspan x="-13.25" y="0.00" font-size="10.6">0.2</tspan></text>
<text transform="translate(140.00,114.25) scale(1.1600,1)" fill="#141414" stroke="#141414" stroke-width="0.1" xml:space="preserve"><tspan x="-13.25" y="0.00" font-size="10.6">0.4</tspan></text>
<text transform="translate(140.00,81.85) scale(1.1600,1)" fill="#141414" stroke="#141414" stroke-width="0.1" xml:space="preserve"><tspan x="-13.25" y="0.00" font-size="10.6">0.6</tspan></text>
<text transform="translate(140.00,49.45) scale(1.1600,1)" fill="#141414" stroke="#141414" stroke-width="0.1" xml:space="preserve"><tspan x="-13.25" y="0.00" font-size="10.6">0.8</tspan></text>
<text transform="translate(140.00,17.05) scale(1.1600,1)" fill="#141414" stroke="#141414" stroke-width="0.1" xml:space="preserve"><tspan x="-5.30" y="0.00" font-size="10.6">1</tspan></text>
<path d="M143.5 175.50h2.5M143.5 143.10h2.5M143.5 110.70h2.5M143.5 78.30h2.5M143.5 45.90h2.5M143.5 13.50h2.5" stroke="#909090" stroke-width="1" fill="none"/>
<path d="M143.50 131.76 L146.15 144.72 L170.00 26.46 L183.25 24.84 L196.50 34.56 L209.75 122.04 L223.00 141.48 L236.25 175.50 L249.50 175.50 L302.50 175.50 L355.50 175.50 L408.50 175.50" fill="none" stroke="#000" stroke-width="1.0" stroke-linejoin="round"/>
<circle cx="143.50" cy="131.76" r="2.4" fill="none" stroke="#000" stroke-width="0.9"/>
<circle cx="146.15" cy="144.72" r="2.4" fill="none" stroke="#000" stroke-width="0.9"/>
<circle cx="170.00" cy="26.46" r="2.4" fill="none" stroke="#000" stroke-width="0.9"/>
<circle cx="183.25" cy="24.84" r="2.4" fill="none" stroke="#000" stroke-width="0.9"/>
<circle cx="196.50" cy="34.56" r="2.4" fill="none" stroke="#000" stroke-width="0.9"/>
<circle cx="209.75" cy="122.04" r="2.4" fill="none" stroke="#000" stroke-width="0.9"/>
<circle cx="223.00" cy="141.48" r="2.4" fill="none" stroke="#000" stroke-width="0.9"/>
<circle cx="236.25" cy="175.50" r="2.4" fill="none" stroke="#000" stroke-width="0.9"/>
<circle cx="249.50" cy="175.50" r="2.4" fill="none" stroke="#000" stroke-width="0.9"/>
<circle cx="302.50" cy="175.50" r="2.4" fill="none" stroke="#000" stroke-width="0.9"/>
<circle cx="355.50" cy="175.50" r="2.4" fill="none" stroke="#000" stroke-width="0.9"/>
<circle cx="408.50" cy="175.50" r="2.4" fill="none" stroke="#000" stroke-width="0.9"/>
<path d="M143.50 131.76 L146.15 146.34 L170.00 41.04 L183.25 44.28 L196.50 119.61 L209.75 135.00 L223.00 137.43 L236.25 136.62 L249.50 136.62 L302.50 151.20 L355.50 157.68 L408.50 160.92" fill="none" stroke="#000" stroke-width="1.0" stroke-linejoin="round"/>
<rect x="141.60" y="129.86" width="3.8" height="3.8" fill="none" stroke="#f40014" stroke-width="1.0"/>
<rect x="144.25" y="144.44" width="3.8" height="3.8" fill="none" stroke="#f40014" stroke-width="1.0"/>
<rect x="168.10" y="39.14" width="3.8" height="3.8" fill="none" stroke="#f40014" stroke-width="1.0"/>
<rect x="181.35" y="42.38" width="3.8" height="3.8" fill="none" stroke="#f40014" stroke-width="1.0"/>
<rect x="194.60" y="117.71" width="3.8" height="3.8" fill="none" stroke="#f40014" stroke-width="1.0"/>
<rect x="207.85" y="133.10" width="3.8" height="3.8" fill="none" stroke="#f40014" stroke-width="1.0"/>
<rect x="221.10" y="135.53" width="3.8" height="3.8" fill="none" stroke="#f40014" stroke-width="1.0"/>
<rect x="234.35" y="134.72" width="3.8" height="3.8" fill="none" stroke="#f40014" stroke-width="1.0"/>
<rect x="247.60" y="134.72" width="3.8" height="3.8" fill="none" stroke="#f40014" stroke-width="1.0"/>
<rect x="300.60" y="149.30" width="3.8" height="3.8" fill="none" stroke="#f40014" stroke-width="1.0"/>
<rect x="353.60" y="155.78" width="3.8" height="3.8" fill="none" stroke="#f40014" stroke-width="1.0"/>
<rect x="406.60" y="159.02" width="3.8" height="3.8" fill="none" stroke="#f40014" stroke-width="1.0"/>
<rect x="313.5" y="15.5" width="92" height="20.5" fill="#fff" stroke="#909090" stroke-width="0.8"/>
<path d="M315 21.5h9" stroke="#000" stroke-width="0.9"/><circle cx="319.5" cy="21.5" r="1.9" fill="none" stroke="#000" stroke-width="0.9"/>
<path d="M315 31.3h9" stroke="#000" stroke-width="0.9"/><rect x="317.8" y="29.6" width="3.4" height="3.4" fill="none" stroke="#f40014" stroke-width="0.9"/>
<text transform="translate(324.70,23.70) scale(1.0547,1)" fill="#141414" stroke="#141414" stroke-width="0.1" xml:space="preserve"><tspan x="0.00" y="0.00" font-size="9.2">isolated inverted foil</tspan></text>
<text transform="translate(324.70,33.50) scale(1.0426,1)" fill="#141414" stroke="#141414" stroke-width="0.1" xml:space="preserve"><tspan x="0.00" y="0.00" font-size="9.2">downstream foil</tspan></text>
<text transform="translate(276.00,201.90) scale(1.2525,1)" fill="#141414" stroke="#141414" stroke-width="0.1" xml:space="preserve"><tspan x="-6.71" y="0.00" font-size="12.2" font-style="italic">K</tspan><tspan x="1.33" y="1.80" font-size="8.8" font-style="italic">B</tspan></text>
<text transform="translate(119.30,94.00) rotate(-90) scale(1.1165,1)" fill="#141414" stroke="#141414" stroke-width="0.1" xml:space="preserve"><tspan x="-18.23" y="0.00" font-size="14" font-style="italic">A</tspan><tspan x="-9.38" y="-5.60" font-size="8.6" font-style="italic">max</tspan><tspan x="-9.88" y="2.60" font-size="8.6" font-style="italic">z</tspan><tspan x="5.95" y="0.00" font-size="14">/</tspan><tspan x="10.44" y="0.00" font-size="14" font-style="italic">L</tspan></text>
<text transform="translate(93.70,10.20) scale(1.0190,1)" fill="#141414" stroke="#141414" stroke-width="0.1" xml:space="preserve"><tspan x="0.00" y="0.00" font-size="13.5">(</tspan><tspan x="4.80" y="0.00" font-size="13" font-style="italic">a</tspan><tspan x="11.80" y="0.00" font-size="13.5">)</tspan></text>
<rect x="46.5" y="223.5" width="238.00" height="159.10" fill="none" stroke="#909090" stroke-width="1"/>
<text transform="translate(46.50,395.30) scale(1.1200,1)" fill="#141414" stroke="#141414" stroke-width="0.1" xml:space="preserve"><tspan x="-2.50" y="0.00" font-size="10.0">0</tspan></text>
<text transform="translate(94.10,395.30) scale(1.1200,1)" fill="#141414" stroke="#141414" stroke-width="0.1" xml:space="preserve"><tspan x="-6.25" y="0.00" font-size="10.0">0.2</tspan></text>
<text transform="translate(141.70,395.30) scale(1.1200,1)" fill="#141414" stroke="#141414" stroke-width="0.1" xml:space="preserve"><tspan x="-6.25" y="0.00" font-size="10.0">0.4</tspan></text>
<text transform="translate(189.30,395.30) scale(1.1200,1)" fill="#141414" stroke="#141414" stroke-width="0.1" xml:space="preserve"><tspan x="-6.25" y="0.00" font-size="10.0">0.6</tspan></text>
<text transform="translate(236.90,395.30) scale(1.1200,1)" fill="#141414" stroke="#141414" stroke-width="0.1" xml:space="preserve"><tspan x="-6.25" y="0.00" font-size="10.0">0.8</tspan></text>
<text transform="translate(284.50,395.30) scale(1.1200,1)" fill="#141414" stroke="#141414" stroke-width="0.1" xml:space="preserve"><tspan x="-2.50" y="0.00" font-size="10.0">1</tspan></text>
<text transform="translate(43.40,385.95) scale(1.1200,1)" fill="#141414" stroke="#141414" stroke-width="0.1" xml:space="preserve"><tspan x="-5.00" y="0.00" font-size="10.0">0</tspan></text>
<text transform="translate(43.40,358.52) scale(1.1200,1)" fill="#141414" stroke="#141414" stroke-width="0.1" xml:space="preserve"><tspan x="-12.50" y="0.00" font-size="10.0">0.5</tspan></text>
<text transform="translate(43.40,331.09) scale(1.1200,1)" fill="#141414" stroke="#141414" stroke-width="0.1" xml:space="preserve"><tspan x="-5.00" y="0.00" font-size="10.0">1</tspan></text>
<text transform="translate(43.40,303.66) scale(1.1200,1)" fill="#141414" stroke="#141414" stroke-width="0.1" xml:space="preserve"><tspan x="-12.50" y="0.00" font-size="10.0">1.5</tspan></text>
<text transform="translate(43.40,276.23) scale(1.1200,1)" fill="#141414" stroke="#141414" stroke-width="0.1" xml:space="preserve"><tspan x="-5.00" y="0.00" font-size="10.0">2</tspan></text>
<text transform="translate(43.40,248.79) scale(1.1200,1)" fill="#141414" stroke="#141414" stroke-width="0.1" xml:space="preserve"><tspan x="-12.50" y="0.00" font-size="10.0">2.5</tspan></text>
<path d="M46.50 382.6v-2.5M46.50 223.5v2.5M94.10 382.6v-2.5M94.10 223.5v2.5M141.70 382.6v-2.5M141.70 223.5v2.5M189.30 382.6v-2.5M189.30 223.5v2.5M236.90 382.6v-2.5M236.90 223.5v2.5M284.50 382.6v-2.5M284.50 223.5v2.5M46.5 382.60h2.5M284.5 382.60h-2.5M46.5 355.17h2.5M284.5 355.17h-2.5M46.5 327.74h2.5M284.5 327.74h-2.5M46.5 300.31h2.5M284.5 300.31h-2.5M46.5 272.88h2.5M284.5 272.88h-2.5M46.5 245.44h2.5M284.5 245.44h-2.5" stroke="#909090" stroke-width="1" fill="none"/>
<path d="M46.50 354.07 L48.88 342.55 L70.30 247.64 L82.20 256.97 L94.10 253.67 L106.00 359.01 L117.90 371.63 L129.80 377.11 L141.70 377.11 L189.30 377.11 L236.90 377.11 L284.50 377.11" fill="none" stroke="#000" stroke-width="0.9" stroke-linejoin="round"/>
<path d="M46.50 363.40 L48.88 348.04 L70.30 310.18 L82.20 299.21 L94.10 367.24 L106.00 373.27 L117.90 372.72 L129.80 371.08 L141.70 370.53 L189.30 378.76 L236.90 379.31 L284.50 378.76" fill="none" stroke="#000" stroke-width="0.9" stroke-linejoin="round"/>
<path d="M46.50 370.53 L48.88 370.53 L70.30 331.58 L82.20 322.25 L94.10 303.05 L106.00 324.45 L117.90 340.36 L129.80 382.60 L141.70 382.60 L189.30 382.60 L236.90 382.60 L284.50 382.60" fill="none" stroke="#000" stroke-width="0.9" stroke-linejoin="round"/>
<path d="M46.50 380.95 L48.88 373.27 L70.30 342.55 L82.20 318.41 L94.10 330.48 L106.00 333.22 L117.90 324.99 L129.80 315.67 L141.70 306.89 L189.30 314.02 L236.90 315.67 L284.50 311.28" fill="none" stroke="#000" stroke-width="0.9" stroke-linejoin="round"/>
<circle cx="46.50" cy="354.07" r="2.3" fill="#fff" stroke="#000" stroke-width="0.9"/>
<circle cx="48.88" cy="342.55" r="2.3" fill="#fff" stroke="#000" stroke-width="0.9"/>
<circle cx="70.30" cy="247.64" r="2.3" fill="#fff" stroke="#000" stroke-width="0.9"/>
<circle cx="82.20" cy="256.97" r="2.3" fill="#fff" stroke="#000" stroke-width="0.9"/>
<circle cx="94.10" cy="253.67" r="2.3" fill="#fff" stroke="#000" stroke-width="0.9"/>
<circle cx="106.00" cy="359.01" r="2.3" fill="#fff" stroke="#000" stroke-width="0.9"/>
<circle cx="117.90" cy="371.63" r="2.3" fill="#fff" stroke="#000" stroke-width="0.9"/>
<circle cx="129.80" cy="377.11" r="2.3" fill="#fff" stroke="#000" stroke-width="0.9"/>
<circle cx="141.70" cy="377.11" r="2.3" fill="#fff" stroke="#000" stroke-width="0.9"/>
<circle cx="189.30" cy="377.11" r="2.3" fill="#fff" stroke="#000" stroke-width="0.9"/>
<circle cx="236.90" cy="377.11" r="2.3" fill="#fff" stroke="#000" stroke-width="0.9"/>
<circle cx="284.50" cy="377.11" r="2.3" fill="#fff" stroke="#000" stroke-width="0.9"/>
<rect x="44.70" y="361.60" width="3.6" height="3.6" fill="#fff" stroke="#f40014" stroke-width="1.0"/>
<rect x="47.08" y="346.24" width="3.6" height="3.6" fill="#fff" stroke="#f40014" stroke-width="1.0"/>
<rect x="68.50" y="308.38" width="3.6" height="3.6" fill="#fff" stroke="#f40014" stroke-width="1.0"/>
<rect x="80.40" y="297.41" width="3.6" height="3.6" fill="#fff" stroke="#f40014" stroke-width="1.0"/>
<rect x="92.30" y="365.44" width="3.6" height="3.6" fill="#fff" stroke="#f40014" stroke-width="1.0"/>
<rect x="104.20" y="371.47" width="3.6" height="3.6" fill="#fff" stroke="#f40014" stroke-width="1.0"/>
<rect x="116.10" y="370.92" width="3.6" height="3.6" fill="#fff" stroke="#f40014" stroke-width="1.0"/>
<rect x="128.00" y="369.28" width="3.6" height="3.6" fill="#fff" stroke="#f40014" stroke-width="1.0"/>
<rect x="139.90" y="368.73" width="3.6" height="3.6" fill="#fff" stroke="#f40014" stroke-width="1.0"/>
<rect x="187.50" y="376.96" width="3.6" height="3.6" fill="#fff" stroke="#f40014" stroke-width="1.0"/>
<rect x="235.10" y="377.51" width="3.6" height="3.6" fill="#fff" stroke="#f40014" stroke-width="1.0"/>
<rect x="282.70" y="376.96" width="3.6" height="3.6" fill="#fff" stroke="#f40014" stroke-width="1.0"/>
<circle cx="46.50" cy="370.53" r="2.5" fill="#000" stroke="#000" stroke-width="0.5"/>
<circle cx="48.88" cy="370.53" r="2.5" fill="#000" stroke="#000" stroke-width="0.5"/>
<circle cx="70.30" cy="331.58" r="2.5" fill="#000" stroke="#000" stroke-width="0.5"/>
<circle cx="82.20" cy="322.25" r="2.5" fill="#000" stroke="#000" stroke-width="0.5"/>
<circle cx="94.10" cy="303.05" r="2.5" fill="#000" stroke="#000" stroke-width="0.5"/>
<circle cx="106.00" cy="324.45" r="2.5" fill="#000" stroke="#000" stroke-width="0.5"/>
<circle cx="117.90" cy="340.36" r="2.5" fill="#000" stroke="#000" stroke-width="0.5"/>
<circle cx="129.80" cy="382.60" r="2.5" fill="#000" stroke="#000" stroke-width="0.5"/>
<circle cx="141.70" cy="382.60" r="2.5" fill="#000" stroke="#000" stroke-width="0.5"/>
<circle cx="189.30" cy="382.60" r="2.5" fill="#000" stroke="#000" stroke-width="0.5"/>
<circle cx="236.90" cy="382.60" r="2.5" fill="#000" stroke="#000" stroke-width="0.5"/>
<circle cx="284.50" cy="382.60" r="2.5" fill="#000" stroke="#000" stroke-width="0.5"/>
<rect x="44.40" y="378.85" width="4.2" height="4.2" fill="#ff0010" stroke="#ff0010" stroke-width="0.3"/>
<rect x="46.78" y="371.17" width="4.2" height="4.2" fill="#ff0010" stroke="#ff0010" stroke-width="0.3"/>
<rect x="68.20" y="340.45" width="4.2" height="4.2" fill="#ff0010" stroke="#ff0010" stroke-width="0.3"/>
<rect x="80.10" y="316.31" width="4.2" height="4.2" fill="#ff0010" stroke="#ff0010" stroke-width="0.3"/>
<rect x="92.00" y="328.38" width="4.2" height="4.2" fill="#ff0010" stroke="#ff0010" stroke-width="0.3"/>
<rect x="103.90" y="331.12" width="4.2" height="4.2" fill="#ff0010" stroke="#ff0010" stroke-width="0.3"/>
<rect x="115.80" y="322.89" width="4.2" height="4.2" fill="#ff0010" stroke="#ff0010" stroke-width="0.3"/>
<rect x="127.70" y="313.57" width="4.2" height="4.2" fill="#ff0010" stroke="#ff0010" stroke-width="0.3"/>
<rect x="139.60" y="304.79" width="4.2" height="4.2" fill="#ff0010" stroke="#ff0010" stroke-width="0.3"/>
<rect x="187.20" y="311.92" width="4.2" height="4.2" fill="#ff0010" stroke="#ff0010" stroke-width="0.3"/>
<rect x="234.80" y="313.57" width="4.2" height="4.2" fill="#ff0010" stroke="#ff0010" stroke-width="0.3"/>
<rect x="282.40" y="309.18" width="4.2" height="4.2" fill="#ff0010" stroke="#ff0010" stroke-width="0.3"/>
<rect x="188.5" y="224.5" width="93.6" height="54" fill="#fff" stroke="#909090" stroke-width="0.8"/>
<path d="M189.3 232.6h8.3" stroke="#000" stroke-width="0.9"/><circle cx="193.5" cy="232.6" r="1.8" fill="#fff" stroke="#000" stroke-width="0.9"/>
<path d="M189.3 245.7h8.3" stroke="#000" stroke-width="0.9"/><rect x="191.9" y="244.1" width="3.2" height="3.2" fill="#fff" stroke="#f40014" stroke-width="0.9"/>
<path d="M189.3 259.1h8.3" stroke="#000" stroke-width="0.9"/><circle cx="193.5" cy="259.1" r="2.3" fill="#000"/>
<path d="M189.3 272.6h8.3" stroke="#000" stroke-width="0.9"/><rect x="191.5" y="270.6" width="4.0" height="4.0" fill="#ff0010"/>
<text transform="translate(198.70,235.70) scale(1.0800,1)" fill="#141414" stroke="#141414" stroke-width="0.1" xml:space="preserve"><tspan x="0.00" y="0.00" font-size="10.6" font-style="italic">C</tspan><tspan x="6.87" y="1.60" font-size="7" font-style="italic">d</tspan></text>
<path d="M198.5 226.80h11.6" stroke="#141414" stroke-width="0.6"/>
<text transform="translate(214.30,235.70) scale(1.1188,1)" fill="#141414" stroke="#141414" stroke-width="0.1" xml:space="preserve"><tspan x="0.00" y="0.00" font-size="10">isolated</tspan></text>
<text transform="translate(198.70,248.80) scale(1.0800,1)" fill="#141414" stroke="#141414" stroke-width="0.1" xml:space="preserve"><tspan x="0.00" y="0.00" font-size="10.6" font-style="italic">C</tspan><tspan x="6.87" y="1.60" font-size="7" font-style="italic">d</tspan></text>
<path d="M198.5 239.90h11.6" stroke="#141414" stroke-width="0.6"/>
<text transform="translate(214.30,248.80) scale(1.1314,1)" fill="#141414" stroke="#141414" stroke-width="0.1" xml:space="preserve"><tspan x="0.00" y="0.00" font-size="10">downstream</tspan></text>
<text transform="translate(198.70,262.20) scale(1.1513,1)" fill="#141414" stroke="#141414" stroke-width="0.1" xml:space="preserve"><tspan x="0.00" y="0.00" font-size="10.6" font-style="italic">C</tspan><tspan x="7.27" y="-4.00" font-size="7.6" font-style="italic">rms</tspan><tspan x="6.67" y="2.20" font-size="7.2" font-style="italic">l</tspan></text>
<text transform="translate(224.70,262.20) scale(1.1413,1)" fill="#141414" stroke="#141414" stroke-width="0.1" xml:space="preserve"><tspan x="0.00" y="0.00" font-size="10">isolated</tspan></text>
<text transform="translate(198.70,275.70) scale(1.1513,1)" fill="#141414" stroke="#141414" stroke-width="0.1" xml:space="preserve"><tspan x="0.00" y="0.00" font-size="10.6" font-style="italic">C</tspan><tspan x="7.27" y="-4.00" font-size="7.6" font-style="italic">rms</tspan><tspan x="6.67" y="2.20" font-size="7.2" font-style="italic">l</tspan></text>
<text transform="translate(224.70,275.70) scale(1.1396,1)" fill="#141414" stroke="#141414" stroke-width="0.1" xml:space="preserve"><tspan x="0.00" y="0.00" font-size="10">downstream</tspan></text>
<text transform="translate(165.50,408.60) scale(1.2078,1)" fill="#141414" stroke="#141414" stroke-width="0.1" xml:space="preserve"><tspan x="-6.71" y="0.00" font-size="12.2" font-style="italic">K</tspan><tspan x="1.33" y="1.80" font-size="8.8" font-style="italic">B</tspan></text>
<text transform="translate(24.40,304.50) rotate(-90) scale(1.1051,1)" fill="#141414" stroke="#141414" stroke-width="0.1" xml:space="preserve"><tspan x="-24.43" y="0.00" font-size="12" font-style="italic">C</tspan><tspan x="-16.63" y="2.20" font-size="8.8" font-style="italic">d</tspan><tspan x="-11.83" y="0.50" font-size="12">,</tspan><tspan x="2.17" y="0.00" font-size="12" font-style="italic">C</tspan><tspan x="10.48" y="-4.60" font-size="9.3" font-style="italic">rms</tspan><tspan x="9.88" y="2.80" font-size="8.8" font-style="italic">l</tspan></text>
<path d="M13.8 317.8V331" stroke="#141414" stroke-width="0.65"/>
<text transform="translate(1.40,221.00) scale(1.0129,1)" fill="#141414" stroke="#141414" stroke-width="0.1" xml:space="preserve"><tspan x="0.00" y="0.00" font-size="13.5">(</tspan><tspan x="4.80" y="0.00" font-size="13" font-style="italic">b</tspan><tspan x="11.80" y="0.00" font-size="13.5">)</tspan></text>
<rect x="346.5" y="224" width="158.00" height="152.30" fill="none" stroke="#909090" stroke-width="1"/>
<text transform="translate(346.50,388.20) scale(1.1200,1)" fill="#141414" stroke="#141414" stroke-width="0.1" xml:space="preserve"><tspan x="-2.50" y="0.00" font-size="10.0">0</tspan></text>
<text transform="translate(372.83,388.20) scale(1.1200,1)" fill="#141414" stroke="#141414" stroke-width="0.1" xml:space="preserve"><tspan x="-6.25" y="0.00" font-size="10.0">0.5</tspan></text>
<text transform="translate(399.17,388.20) scale(1.1200,1)" fill="#141414" stroke="#141414" stroke-width="0.1" xml:space="preserve"><tspan x="-2.50" y="0.00" font-size="10.0">1</tspan></text>
<text transform="translate(425.50,388.20) scale(1.1200,1)" fill="#141414" stroke="#141414" stroke-width="0.1" xml:space="preserve"><tspan x="-6.25" y="0.00" font-size="10.0">1.5</tspan></text>
<text transform="translate(451.83,388.20) scale(1.1200,1)" fill="#141414" stroke="#141414" stroke-width="0.1" xml:space="preserve"><tspan x="-2.50" y="0.00" font-size="10.0">2</tspan></text>
<text transform="translate(478.17,388.20) scale(1.1200,1)" fill="#141414" stroke="#141414" stroke-width="0.1" xml:space="preserve"><tspan x="-6.25" y="0.00" font-size="10.0">2.5</tspan></text>
<text transform="translate(504.50,388.20) scale(1.1200,1)" fill="#141414" stroke="#141414" stroke-width="0.1" xml:space="preserve"><tspan x="-2.50" y="0.00" font-size="10.0">3</tspan></text>
<text transform="translate(343.40,379.65) scale(1.1200,1)" fill="#141414" stroke="#141414" stroke-width="0.1" xml:space="preserve"><tspan x="-5.00" y="0.00" font-size="10.0">0</tspan></text>
<text transform="translate(343.40,341.58) scale(1.1200,1)" fill="#141414" stroke="#141414" stroke-width="0.1" xml:space="preserve"><tspan x="-12.50" y="0.00" font-size="10.0">0.2</tspan></text>
<text transform="translate(343.40,303.50) scale(1.1200,1)" fill="#141414" stroke="#141414" stroke-width="0.1" xml:space="preserve"><tspan x="-12.50" y="0.00" font-size="10.0">0.4</tspan></text>
<text transform="translate(343.40,265.43) scale(1.1200,1)" fill="#141414" stroke="#141414" stroke-width="0.1" xml:space="preserve"><tspan x="-12.50" y="0.00" font-size="10.0">0.6</tspan></text>
<text transform="translate(343.40,227.35) scale(1.1200,1)" fill="#141414" stroke="#141414" stroke-width="0.1" xml:space="preserve"><tspan x="-12.50" y="0.00" font-size="10.0">0.8</tspan></text>
<path d="M346.50 376.3v-2.5M346.50 224v2.5M372.83 376.3v-2.5M372.83 224v2.5M399.17 376.3v-2.5M399.17 224v2.5M425.50 376.3v-2.5M425.50 224v2.5M451.83 376.3v-2.5M451.83 224v2.5M478.17 376.3v-2.5M478.17 224v2.5M504.50 376.3v-2.5M504.50 224v2.5M346.5 376.30h2.5M504.5 376.30h-2.5M346.5 338.23h2.5M504.5 338.23h-2.5M346.5 300.15h2.5M504.5 300.15h-2.5M346.5 262.08h2.5M504.5 262.08h-2.5M346.5 224.00h2.5M504.5 224.00h-2.5" stroke="#909090" stroke-width="1" fill="none"/>
<path d="M346.50 376.11 L348.98 375.73 L351.13 374.30 L352.82 370.59 L354.29 366.78 L355.35 362.02 L356.24 358.21 L357.03 362.02 L357.98 367.16 L358.88 369.07 L360.19 370.59 L362.30 371.73 L364.93 373.25 L367.57 374.78 L369.67 373.63 L371.78 372.87 L374.94 374.02 L378.10 374.97 L382.58 376.11 L386.84 375.73 L391.16 374.59 L393.90 373.63 L396.01 368.69 L397.85 357.26 L399.43 346.03 L400.85 357.26 L402.33 367.16 L403.91 371.35 L406.86 373.63 L411.28 374.59 L417.60 375.54 L430.77 375.73 L451.83 375.92 L504.50 376.11" fill="none" stroke="#000" stroke-width="0.8" stroke-linejoin="round"/>
<path d="M346.50 375.73 L347.97 371.45 L349.45 373.63 L351.13 371.45 L352.82 369.26 L354.29 361.45 L355.72 345.84 L357.14 332.51 L358.30 347.17 L359.72 360.02 L361.88 365.73 L363.30 364.31 L364.72 360.02 L366.14 368.69 L367.57 373.63 L369.67 372.11 L371.78 370.02 L373.73 367.16 L375.41 372.11 L377.57 370.02 L379.68 373.63 L382.58 375.44 L386.84 374.97 L391.16 374.30 L393.90 373.63 L396.16 371.45 L397.59 364.31 L398.75 353.65 L399.69 364.31 L400.85 372.11 L402.59 374.30 L406.86 375.44 L417.60 375.73 L425.50 375.54 L430.77 375.92 L451.83 375.92 L504.50 376.11" fill="none" stroke="#0000ff" stroke-width="0.8" stroke-linejoin="round"/>
<path d="M346.50 375.73 L347.55 364.31 L349.71 353.65 L351.13 357.26 L352.56 361.45 L354.72 363.54 L356.88 357.26 L358.98 347.17 L360.09 311.00 L361.40 244.94 L362.67 311.00 L363.56 339.37 L365.41 327.18 L366.83 347.17 L368.30 362.97 L369.67 370.02 L371.78 371.54 L373.25 367.92 L375.47 370.78 L378.26 367.92 L380.42 370.78 L383.37 372.11 L385.42 370.30 L387.58 374.30 L389.69 370.02 L391.85 373.63 L393.90 372.11 L396.53 368.30 L398.27 370.78 L399.69 374.30 L403.91 374.02 L408.12 373.63 L412.33 374.59 L417.60 374.97 L422.87 375.54 L426.55 374.40 L429.71 375.35 L433.40 374.59 L437.09 375.54 L443.93 375.73 L449.20 375.35 L454.47 375.92 L467.63 375.73 L483.43 375.92 L504.50 375.92" fill="none" stroke="#ff0000" stroke-width="0.8" stroke-linejoin="round"/>
<rect x="454.5" y="226.5" width="47" height="29" fill="#fff" stroke="#909090" stroke-width="0.8"/>
<path d="M455.4 231.60h7.9" stroke="#000" stroke-width="0.8"/>
<text transform="translate(464.20,233.50) scale(1.3879,1)" fill="#141414" stroke="#141414" stroke-width="0.1" xml:space="preserve"><tspan x="0.00" y="0.00" font-size="7.0" font-style="italic">K</tspan><tspan x="4.47" y="1.20" font-size="5.2" font-style="italic">B</tspan><tspan x="8.95" y="0.00" font-size="7.0">=</tspan><tspan x="14.19" y="0.00" font-size="7.0">0.25</tspan></text>
<path d="M455.4 241.30h7.9" stroke="#0000ff" stroke-width="0.8"/>
<text transform="translate(464.20,243.20) scale(1.4209,1)" fill="#141414" stroke="#141414" stroke-width="0.1" xml:space="preserve"><tspan x="0.00" y="0.00" font-size="7.0" font-style="italic">K</tspan><tspan x="4.47" y="1.20" font-size="5.2" font-style="italic">B</tspan><tspan x="8.95" y="0.00" font-size="7.0">=</tspan><tspan x="14.19" y="0.00" font-size="7.0">0.2</tspan></text>
<path d="M455.4 250.50h7.9" stroke="#ff0000" stroke-width="0.8"/>
<text transform="translate(464.20,252.40) scale(1.3879,1)" fill="#141414" stroke="#141414" stroke-width="0.1" xml:space="preserve"><tspan x="0.00" y="0.00" font-size="7.0" font-style="italic">K</tspan><tspan x="4.47" y="1.20" font-size="5.2" font-style="italic">B</tspan><tspan x="8.95" y="0.00" font-size="7.0">=</tspan><tspan x="14.19" y="0.00" font-size="7.0">0.15</tspan></text>
<text transform="translate(424.90,402.40) scale(1.2936,1)" fill="#141414" stroke="#141414" stroke-width="0.1" xml:space="preserve"><tspan x="-10.05" y="0.00" font-size="12.4" font-style="italic">f</tspan><tspan x="-5.20" y="0.00" font-size="12.4">/</tspan><tspan x="-1.36" y="0.00" font-size="12.4" font-style="italic">f</tspan><tspan x="2.88" y="2.00" font-size="8.6" font-style="italic">vs</tspan></text>
<text transform="translate(324.80,300.10) rotate(-90) scale(1.2541,1)" fill="#141414" stroke="#141414" stroke-width="0.1" xml:space="preserve"><tspan x="-26.71" y="0.00" font-size="11.5">|(</tspan><tspan x="-20.58" y="0.00" font-size="11.5" font-style="italic">A</tspan><tspan x="-13.86" y="2.00" font-size="7.5" font-style="italic">z</tspan><tspan x="-8.44" y="0.00" font-size="11.5">−</tspan><tspan x="0.55" y="0.00" font-size="11.5" font-style="italic">A</tspan><tspan x="7.27" y="2.00" font-size="7.5" font-style="italic">z</tspan><tspan x="10.49" y="0.00" font-size="11.5">)/</tspan><tspan x="17.51" y="0.00" font-size="11.5" font-style="italic">L</tspan><tspan x="24.41" y="0.00" font-size="11.5">|</tspan></text>
<text transform="translate(300.70,221.00) scale(0.9447,1)" fill="#141414" stroke="#141414" stroke-width="0.1" xml:space="preserve"><tspan x="0.00" y="0.00" font-size="13.5">(</tspan><tspan x="4.80" y="0.00" font-size="13" font-style="italic">c</tspan><tspan x="11.07" y="0.00" font-size="13.5">)</tspan></text>
<rect x="47.5" y="422.4" width="157.00" height="153.00" fill="none" stroke="#909090" stroke-width="1"/>
<text transform="translate(47.50,587.30) scale(1.1200,1)" fill="#141414" stroke="#141414" stroke-width="0.1" xml:space="preserve"><tspan x="-2.50" y="0.00" font-size="10.0">0</tspan></text>
<text transform="translate(73.67,587.30) scale(1.1200,1)" fill="#141414" stroke="#141414" stroke-width="0.1" xml:space="preserve"><tspan x="-6.25" y="0.00" font-size="10.0">0.5</tspan></text>
<text transform="translate(99.83,587.30) scale(1.1200,1)" fill="#141414" stroke="#141414" stroke-width="0.1" xml:space="preserve"><tspan x="-2.50" y="0.00" font-size="10.0">1</tspan></text>
<text transform="translate(126.00,587.30) scale(1.1200,1)" fill="#141414" stroke="#141414" stroke-width="0.1" xml:space="preserve"><tspan x="-6.25" y="0.00" font-size="10.0">1.5</tspan></text>
<text transform="translate(152.17,587.30) scale(1.1200,1)" fill="#141414" stroke="#141414" stroke-width="0.1" xml:space="preserve"><tspan x="-2.50" y="0.00" font-size="10.0">2</tspan></text>
<text transform="translate(178.33,587.30) scale(1.1200,1)" fill="#141414" stroke="#141414" stroke-width="0.1" xml:space="preserve"><tspan x="-6.25" y="0.00" font-size="10.0">2.5</tspan></text>
<text transform="translate(204.50,587.30) scale(1.1200,1)" fill="#141414" stroke="#141414" stroke-width="0.1" xml:space="preserve"><tspan x="-2.50" y="0.00" font-size="10.0">3</tspan></text>
<text transform="translate(44.40,578.75) scale(1.1200,1)" fill="#141414" stroke="#141414" stroke-width="0.1" xml:space="preserve"><tspan x="-5.00" y="0.00" font-size="10.0">0</tspan></text>
<text transform="translate(44.40,553.25) scale(1.1200,1)" fill="#141414" stroke="#141414" stroke-width="0.1" xml:space="preserve"><tspan x="-12.50" y="0.00" font-size="10.0">0.2</tspan></text>
<text transform="translate(44.40,527.75) scale(1.1200,1)" fill="#141414" stroke="#141414" stroke-width="0.1" xml:space="preserve"><tspan x="-12.50" y="0.00" font-size="10.0">0.4</tspan></text>
<text transform="translate(44.40,502.25) scale(1.1200,1)" fill="#141414" stroke="#141414" stroke-width="0.1" xml:space="preserve"><tspan x="-12.50" y="0.00" font-size="10.0">0.6</tspan></text>
<text transform="translate(44.40,476.75) scale(1.1200,1)" fill="#141414" stroke="#141414" stroke-width="0.1" xml:space="preserve"><tspan x="-12.50" y="0.00" font-size="10.0">0.8</tspan></text>
<text transform="translate(44.40,451.25) scale(1.1200,1)" fill="#141414" stroke="#141414" stroke-width="0.1" xml:space="preserve"><tspan x="-5.00" y="0.00" font-size="10.0">1</tspan></text>
<text transform="translate(44.40,425.75) scale(1.1200,1)" fill="#141414" stroke="#141414" stroke-width="0.1" xml:space="preserve"><tspan x="-12.50" y="0.00" font-size="10.0">1.2</tspan></text>
<path d="M47.50 575.4v-2.5M47.50 422.4v2.5M73.67 575.4v-2.5M73.67 422.4v2.5M99.83 575.4v-2.5M99.83 422.4v2.5M126.00 575.4v-2.5M126.00 422.4v2.5M152.17 575.4v-2.5M152.17 422.4v2.5M178.33 575.4v-2.5M178.33 422.4v2.5M204.50 575.4v-2.5M204.50 422.4v2.5M47.5 575.40h2.5M204.5 575.40h-2.5M47.5 549.90h2.5M204.5 549.90h-2.5M47.5 524.40h2.5M204.5 524.40h-2.5M47.5 498.90h2.5M204.5 498.90h-2.5M47.5 473.40h2.5M204.5 473.40h-2.5M47.5 447.90h2.5M204.5 447.90h-2.5M47.5 422.40h2.5M204.5 422.40h-2.5" stroke="#909090" stroke-width="1" fill="none"/>
<path d="M47.50 573.23 L51.42 573.23 L52.73 569.28 L54.30 556.40 L55.72 534.98 L57.44 511.65 L58.12 530.77 L59.27 555.00 L61.42 559.33 L63.57 562.90 L66.44 564.94 L68.59 569.28 L71.42 566.48 L73.56 565.71 L75.71 568.58 L77.59 573.28 L79.74 557.86 L81.41 569.28 L83.56 573.28 L86.44 571.45 L89.37 568.58 L92.14 566.48 L94.29 562.14 L96.43 552.19 L97.84 530.77 L98.58 505.02 L100.62 455.42 L102.55 505.02 L103.29 530.77 L104.28 552.19 L105.59 560.74 L107.84 565.00 L110.72 567.88 L111.92 569.02 L115.80 571.83 L119.67 570.94 L122.55 574.38 L127.36 573.23 L133.17 574.00 L138.98 574.38 L142.75 570.94 L145.73 573.78 L151.49 574.38 L162.11 572.47 L165.98 574.38 L177.55 574.76 L200.84 574.76 L203.98 572.85" fill="none" stroke="#000" stroke-width="0.8" stroke-linejoin="round"/>
<path d="M47.50 568.58 L49.02 550.66 L50.69 556.40 L52.16 560.74 L53.26 550.66 L54.30 553.60 L55.72 537.91 L57.13 505.02 L58.57 470.85 L60.27 505.02 L61.00 530.77 L62.15 547.86 L63.57 555.00 L64.98 546.46 L66.13 543.52 L67.12 559.33 L68.12 572.15 L70.00 569.28 L71.42 567.88 L73.56 561.38 L75.29 567.88 L77.12 565.00 L78.59 566.48 L80.00 557.86 L81.41 566.48 L83.56 570.04 L85.70 572.15 L87.85 569.28 L90.73 567.11 L92.87 569.28 L95.02 567.11 L96.69 563.54 L98.16 552.19 L99.31 509.35 L99.73 500.17 L100.72 537.91 L101.87 562.14 L103.50 565.00 L105.07 569.28 L107.16 565.00 L109.25 566.48 L110.72 573.58 L112.86 570.68 L115.80 569.92 L118.67 573.78 L121.55 571.83 L124.43 566.09 L126.42 572.85 L129.30 574.38 L132.28 572.85 L135.11 574.76 L138.98 574.38 L141.86 572.85 L145.73 574.38 L151.49 574.76 L155.31 573.23 L159.23 574.00 L162.11 573.23 L165.98 575.14 L173.62 575.14 L187.23 575.02 L200.84 575.02 L203.98 571.83" fill="none" stroke="#0000ff" stroke-width="0.8" stroke-linejoin="round"/>
<path d="M47.50 565.00 L49.28 543.52 L51.42 543.52 L52.84 562.14 L54.30 557.86 L55.30 552.19 L56.40 555.00 L58.57 535.75 L60.27 537.15 L61.11 505.02 L62.41 424.95 L64.25 505.02 L64.98 530.77 L66.44 516.42 L67.58 530.77 L68.59 552.19 L70.00 566.48 L72.15 569.28 L74.29 565.00 L76.44 566.48 L78.15 562.14 L79.72 555.00 L81.15 563.54 L82.86 566.48 L84.29 568.58 L85.70 562.14 L87.43 549.90 L88.84 565.00 L90.73 546.46 L92.56 565.00 L94.29 562.14 L96.17 552.19 L97.58 537.91 L98.58 531.41 L99.57 552.19 L101.40 566.48 L103.50 569.28 L105.72 562.14 L107.84 561.38 L109.57 567.88 L111.92 562.19 L113.28 564.31 L114.80 570.94 L117.73 569.02 L120.61 571.83 L123.38 572.85 L126.42 565.07 L128.36 569.02 L130.19 564.69 L132.28 569.02 L134.16 566.09 L135.94 569.92 L138.04 569.02 L139.92 572.85 L143.79 571.83 L146.67 573.23 L148.50 571.83 L150.91 569.92 L153.21 573.23 L157.40 573.78 L161.06 572.47 L164.05 573.78 L169.86 573.62 L173.62 574.38 L176.61 572.85 L179.38 574.38 L185.29 574.00 L188.17 573.23 L191.10 574.38 L195.08 574.38 L197.49 571.83 L199.27 574.38 L201.73 572.85 L203.98 574.76" fill="none" stroke="#ff0000" stroke-width="0.8" stroke-linejoin="round"/>
<rect x="155.5" y="424.9" width="47" height="29" fill="#fff" stroke="#909090" stroke-width="0.8"/>
<path d="M156.4 430.00h7.9" stroke="#000" stroke-width="0.8"/>
<text transform="translate(165.20,431.90) scale(1.3879,1)" fill="#141414" stroke="#141414" stroke-width="0.1" xml:space="preserve"><tspan x="0.00" y="0.00" font-size="7.0" font-style="italic">K</tspan><tspan x="4.47" y="1.20" font-size="5.2" font-style="italic">B</tspan><tspan x="8.95" y="0.00" font-size="7.0">=</tspan><tspan x="14.19" y="0.00" font-size="7.0">0.25</tspan></text>
<path d="M156.4 439.70h7.9" stroke="#0000ff" stroke-width="0.8"/>
<text transform="translate(165.20,441.60) scale(1.4209,1)" fill="#141414" stroke="#141414" stroke-width="0.1" xml:space="preserve"><tspan x="0.00" y="0.00" font-size="7.0" font-style="italic">K</tspan><tspan x="4.47" y="1.20" font-size="5.2" font-style="italic">B</tspan><tspan x="8.95" y="0.00" font-size="7.0">=</tspan><tspan x="14.19" y="0.00" font-size="7.0">0.2</tspan></text>
<path d="M156.4 448.90h7.9" stroke="#ff0000" stroke-width="0.8"/>
<text transform="translate(165.20,450.80) scale(1.3879,1)" fill="#141414" stroke="#141414" stroke-width="0.1" xml:space="preserve"><tspan x="0.00" y="0.00" font-size="7.0" font-style="italic">K</tspan><tspan x="4.47" y="1.20" font-size="5.2" font-style="italic">B</tspan><tspan x="8.95" y="0.00" font-size="7.0">=</tspan><tspan x="14.19" y="0.00" font-size="7.0">0.15</tspan></text>
<text transform="translate(125.90,601.50) scale(1.2936,1)" fill="#141414" stroke="#141414" stroke-width="0.1" xml:space="preserve"><tspan x="-10.05" y="0.00" font-size="12.4" font-style="italic">f</tspan><tspan x="-5.20" y="0.00" font-size="12.4">/</tspan><tspan x="-1.36" y="0.00" font-size="12.4" font-style="italic">f</tspan><tspan x="2.88" y="2.00" font-size="8.6" font-style="italic">vs</tspan></text>
<text transform="translate(26.70,498.70) rotate(-90) scale(1.1576,1)" fill="#141414" stroke="#141414" stroke-width="0.1" xml:space="preserve"><tspan x="-13.61" y="0.00" font-size="11.5">|</tspan><tspan x="-11.00" y="0.00" font-size="11.5" font-style="italic">C</tspan><tspan x="-3.53" y="2.00" font-size="7.5" font-style="italic">l</tspan><tspan x="-1.15" y="0.00" font-size="11.5">(</tspan><tspan x="3.28" y="0.00" font-size="11.5" font-style="italic">f</tspan><tspan x="7.47" y="0.00" font-size="11.5">)|</tspan></text>
<text transform="translate(0.70,420.70) scale(1.0252,1)" fill="#141414" stroke="#141414" stroke-width="0.1" xml:space="preserve"><tspan x="0.00" y="0.00" font-size="13.5">(</tspan><tspan x="4.80" y="0.00" font-size="13" font-style="italic">d</tspan><tspan x="11.80" y="0.00" font-size="13.5">)</tspan></text>
<rect x="283.5" y="422.4" width="220.00" height="149.00" fill="none" stroke="#909090" stroke-width="1"/>
<text transform="translate(283.50,584.10) scale(1.1200,1)" fill="#141414" stroke="#141414" stroke-width="0.1" xml:space="preserve"><tspan x="-6.25" y="0.00" font-size="10.0">0.1</tspan></text>
<text transform="translate(320.17,584.10) scale(1.1200,1)" fill="#141414" stroke="#141414" stroke-width="0.1" xml:space="preserve"><tspan x="-8.75" y="0.00" font-size="10.0">0.15</tspan></text>
<text transform="translate(356.83,584.10) scale(1.1200,1)" fill="#141414" stroke="#141414" stroke-width="0.1" xml:space="preserve"><tspan x="-6.25" y="0.00" font-size="10.0">0.2</tspan></text>
<text transform="translate(393.50,584.10) scale(1.1200,1)" fill="#141414" stroke="#141414" stroke-width="0.1" xml:space="preserve"><tspan x="-8.75" y="0.00" font-size="10.0">0.25</tspan></text>
<text transform="translate(430.17,584.10) scale(1.1200,1)" fill="#141414" stroke="#141414" stroke-width="0.1" xml:space="preserve"><tspan x="-6.25" y="0.00" font-size="10.0">0.3</tspan></text>
<text transform="translate(466.83,584.10) scale(1.1200,1)" fill="#141414" stroke="#141414" stroke-width="0.1" xml:space="preserve"><tspan x="-8.75" y="0.00" font-size="10.0">0.35</tspan></text>
<text transform="translate(503.50,584.10) scale(1.1200,1)" fill="#141414" stroke="#141414" stroke-width="0.1" xml:space="preserve"><tspan x="-6.25" y="0.00" font-size="10.0">0.4</tspan></text>
<text transform="translate(280.40,574.75) scale(1.1200,1)" fill="#141414" stroke="#141414" stroke-width="0.1" xml:space="preserve"><tspan x="-5.00" y="0.00" font-size="10.0">0</tspan></text>
<text transform="translate(280.40,549.92) scale(1.1200,1)" fill="#141414" stroke="#141414" stroke-width="0.1" xml:space="preserve"><tspan x="-12.50" y="0.00" font-size="10.0">0.2</tspan></text>
<text transform="translate(280.40,525.08) scale(1.1200,1)" fill="#141414" stroke="#141414" stroke-width="0.1" xml:space="preserve"><tspan x="-12.50" y="0.00" font-size="10.0">0.4</tspan></text>
<text transform="translate(280.40,500.25) scale(1.1200,1)" fill="#141414" stroke="#141414" stroke-width="0.1" xml:space="preserve"><tspan x="-12.50" y="0.00" font-size="10.0">0.6</tspan></text>
<text transform="translate(280.40,475.42) scale(1.1200,1)" fill="#141414" stroke="#141414" stroke-width="0.1" xml:space="preserve"><tspan x="-12.50" y="0.00" font-size="10.0">0.8</tspan></text>
<text transform="translate(280.40,450.58) scale(1.1200,1)" fill="#141414" stroke="#141414" stroke-width="0.1" xml:space="preserve"><tspan x="-5.00" y="0.00" font-size="10.0">1</tspan></text>
<text transform="translate(280.40,425.75) scale(1.1200,1)" fill="#141414" stroke="#141414" stroke-width="0.1" xml:space="preserve"><tspan x="-12.50" y="0.00" font-size="10.0">1.2</tspan></text>
<path d="M283.50 571.4v-2.5M283.50 422.4v2.5M320.17 571.4v-2.5M320.17 422.4v2.5M356.83 571.4v-2.5M356.83 422.4v2.5M393.50 571.4v-2.5M393.50 422.4v2.5M430.17 571.4v-2.5M430.17 422.4v2.5M466.83 571.4v-2.5M466.83 422.4v2.5M503.50 571.4v-2.5M503.50 422.4v2.5M283.5 571.40h2.5M503.5 571.40h-2.5M283.5 546.57h2.5M503.5 546.57h-2.5M283.5 521.73h2.5M503.5 521.73h-2.5M283.5 496.90h2.5M503.5 496.90h-2.5M283.5 472.07h2.5M503.5 472.07h-2.5M283.5 447.23h2.5M503.5 447.23h-2.5M283.5 422.40h2.5M503.5 422.40h-2.5" stroke="#909090" stroke-width="1" fill="none"/>
<path d="M283.50 543.09 L320.17 534.15 L356.83 547.81 L393.50 447.73 L430.17 446.49 L466.83 447.23 L503.50 447.85" fill="none" stroke="#000" stroke-width="0.85" stroke-linejoin="round"/>
<circle cx="283.50" cy="543.09" r="3.5" fill="#2a9fd8" stroke="#10303c" stroke-width="0.7"/>
<circle cx="320.17" cy="534.15" r="3.5" fill="#2a9fd8" stroke="#10303c" stroke-width="0.7"/>
<circle cx="356.83" cy="547.81" r="3.5" fill="#2a9fd8" stroke="#10303c" stroke-width="0.7"/>
<circle cx="393.50" cy="447.73" r="3.5" fill="#2a9fd8" stroke="#10303c" stroke-width="0.7"/>
<circle cx="430.17" cy="446.49" r="3.5" fill="#2a9fd8" stroke="#10303c" stroke-width="0.7"/>
<circle cx="466.83" cy="447.23" r="3.5" fill="#2a9fd8" stroke="#10303c" stroke-width="0.7"/>
<circle cx="503.50" cy="447.85" r="3.5" fill="#2a9fd8" stroke="#10303c" stroke-width="0.7"/>
<path d="M281.30 543.09L285.70 543.09M281.94 541.53L285.06 544.65M283.50 540.89L283.50 545.29M285.06 541.53L281.94 544.65" stroke="#000" stroke-width="0.7"/>
<circle cx="283.50" cy="543.09" r="1.2" fill="#000"/>
<path d="M317.97 534.15L322.37 534.15M318.61 532.59L321.72 535.71M320.17 531.95L320.17 536.35M321.72 532.59L318.61 535.71" stroke="#000" stroke-width="0.7"/>
<circle cx="320.17" cy="534.15" r="1.2" fill="#000"/>
<path d="M354.63 547.81L359.03 547.81M355.28 546.25L358.39 549.36M356.83 545.61L356.83 550.01M358.39 546.25L355.28 549.36" stroke="#000" stroke-width="0.7"/>
<circle cx="356.83" cy="547.81" r="1.2" fill="#000"/>
<path d="M391.30 447.73L395.70 447.73M391.94 446.17L395.06 449.29M393.50 445.53L393.50 449.93M395.06 446.17L391.94 449.29" stroke="#000" stroke-width="0.7"/>
<circle cx="393.50" cy="447.73" r="1.2" fill="#000"/>
<path d="M427.97 446.49L432.37 446.49M428.61 444.93L431.72 448.04M430.17 444.29L430.17 448.69M431.72 444.93L428.61 448.04" stroke="#000" stroke-width="0.7"/>
<circle cx="430.17" cy="446.49" r="1.2" fill="#000"/>
<path d="M464.63 447.23L469.03 447.23M465.28 445.68L468.39 448.79M466.83 445.03L466.83 449.43M468.39 445.68L465.28 448.79" stroke="#000" stroke-width="0.7"/>
<circle cx="466.83" cy="447.23" r="1.2" fill="#000"/>
<path d="M501.30 447.85L505.70 447.85M501.94 446.30L505.06 449.41M503.50 445.65L503.50 450.05M505.06 446.30L501.94 449.41" stroke="#000" stroke-width="0.7"/>
<circle cx="503.50" cy="447.85" r="1.2" fill="#000"/>
<rect x="449.5" y="481.5" width="51" height="32" fill="#fff" stroke="#909090" stroke-width="0.8"/>
<circle cx="454.9" cy="489.9" r="3.7" fill="#3cb4f0" stroke="#000" stroke-width="0.6"/>
<path d="M450.8 504.9h8.8" stroke="#000" stroke-width="0.9"/>
<path d="M452.90 504.90L457.30 504.90M453.54 503.34L456.66 506.46M455.10 502.70L455.10 507.10M456.66 503.34L453.54 506.46" stroke="#000" stroke-width="0.7"/>
<circle cx="455.10" cy="504.90" r="1.3" fill="#000"/>
<text transform="translate(461.60,493.60) scale(1.4271,1)" fill="#141414" stroke="#141414" stroke-width="0.1" xml:space="preserve"><tspan x="0.00" y="0.00" font-size="12.5" font-style="italic">f</tspan><tspan x="3.17" y="2.20" font-size="8.2" font-style="italic">C</tspan><tspan x="8.44" y="3.60" font-size="6" font-style="italic">l</tspan><tspan x="10.71" y="0.00" font-size="12.5">/</tspan><tspan x="14.48" y="0.00" font-size="12.5" font-style="italic">f</tspan><tspan x="18.25" y="2.20" font-size="8.2" font-style="italic">vs</tspan></text>
<text transform="translate(461.60,508.50) scale(1.4431,1)" fill="#141414" stroke="#141414" stroke-width="0.1" xml:space="preserve"><tspan x="0.00" y="0.00" font-size="12.5" font-style="italic">f</tspan><tspan x="3.17" y="2.20" font-size="8.2" font-style="italic">A</tspan><tspan x="7.98" y="3.60" font-size="6" font-style="italic">z</tspan><tspan x="10.92" y="0.00" font-size="12.5">/</tspan><tspan x="14.69" y="0.00" font-size="12.5" font-style="italic">f</tspan><tspan x="18.46" y="2.20" font-size="8.2" font-style="italic">vs</tspan></text>
<text transform="translate(393.50,598.20) scale(1.2227,1)" fill="#141414" stroke="#141414" stroke-width="0.1" xml:space="preserve"><tspan x="-6.71" y="0.00" font-size="12.2" font-style="italic">K</tspan><tspan x="1.33" y="1.80" font-size="8.8" font-style="italic">B</tspan></text>
<text transform="translate(262.70,498.00) rotate(-90) scale(1.5076,1)" fill="#141414" stroke="#141414" stroke-width="0.1" xml:space="preserve"><tspan x="-30.51" y="0.00" font-size="12" font-style="italic">f</tspan><tspan x="-27.48" y="2.20" font-size="8" font-style="italic">C</tspan><tspan x="-22.34" y="3.60" font-size="5.8" font-style="italic">l</tspan><tspan x="-20.13" y="0.00" font-size="12">/</tspan><tspan x="-16.50" y="0.00" font-size="12" font-style="italic">f</tspan><tspan x="-12.86" y="2.20" font-size="8" font-style="italic">vs</tspan><tspan x="-6.00" y="0.00" font-size="12">,</tspan><tspan x="6.00" y="0.00" font-size="12" font-style="italic">f</tspan><tspan x="9.04" y="2.20" font-size="8" font-style="italic">A</tspan><tspan x="13.72" y="3.60" font-size="5.8" font-style="italic">z</tspan><tspan x="16.58" y="0.00" font-size="12">/</tspan><tspan x="20.21" y="0.00" font-size="12" font-style="italic">f</tspan><tspan x="23.85" y="2.20" font-size="8" font-style="italic">vs</tspan></text>
<text transform="translate(237.40,420.70) scale(1.0089,1)" fill="#141414" stroke="#141414" stroke-width="0.1" xml:space="preserve"><tspan x="0.00" y="0.00" font-size="13.5">(</tspan><tspan x="4.80" y="0.00" font-size="13" font-style="italic">e</tspan><tspan x="11.07" y="0.00" font-size="13.5">)</tspan></text>
</svg>
</body></html>
